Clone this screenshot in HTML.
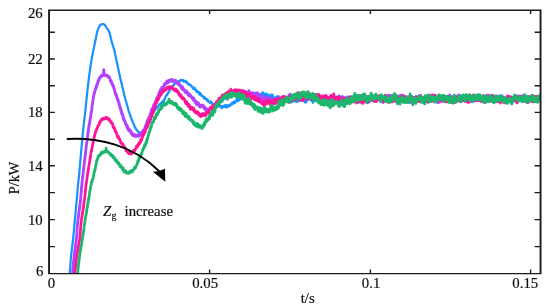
<!DOCTYPE html>
<html><head><meta charset="utf-8"><title>P/kW vs t/s</title>
<style>html,body{margin:0;padding:0;background:#fff}svg{display:block}</style></head>
<body>
<svg width="550" height="308" viewBox="0 0 550 308">
<rect width="550" height="308" fill="#fff"/>
<clipPath id="c"><rect x="49" y="10" width="492" height="263.8"/></clipPath>
<g clip-path="url(#c)" fill="none" stroke-linejoin="round" stroke-linecap="round">
<polyline stroke="#1892ff" stroke-width="2.2" points="69.6,274.5 69.6,274.1 69.7,273.8 69.7,273.6 69.7,273.3 69.7,272.8 69.8,272.4 69.8,272.1 69.8,271.7 69.8,271.2 69.9,271.0 69.9,270.7 69.9,270.4 69.9,270.1 70.0,269.6 70.0,269.3 70.0,268.9 70.1,268.6 70.1,268.3 70.1,267.8 70.1,267.6 70.2,267.2 70.2,266.7 70.2,266.5 70.2,266.2 70.3,265.9 70.3,265.4 70.3,265.2 70.4,264.8 70.4,264.3 70.4,264.0 70.4,263.8 70.5,263.3 70.5,262.9 70.5,262.7 70.6,262.2 70.6,261.9 70.6,261.6 70.6,261.3 70.7,260.9 70.7,260.6 70.7,260.2 70.8,260.0 70.8,259.6 70.8,259.2 70.9,258.7 70.9,258.5 70.9,258.1 70.9,257.7 71.0,257.4 71.0,257.2 71.0,256.8 71.1,256.3 71.1,255.9 71.1,255.7 71.2,255.4 71.2,255.1 71.2,254.6 71.3,254.4 71.3,253.9 71.3,253.5 71.4,253.2 71.4,253.0 71.5,252.6 71.5,252.0 71.5,251.8 71.6,251.5 71.6,251.0 71.7,250.6 71.7,250.3 71.7,250.2 71.8,249.7 71.8,249.3 71.9,249.1 71.9,248.7 72.0,248.4 72.0,248.0 72.0,247.6 72.1,247.3 72.1,246.9 72.2,246.5 72.2,246.4 72.3,246.1 72.3,245.6 72.3,245.3 72.4,245.0 72.4,244.5 72.5,244.2 72.5,243.8 72.6,243.3 72.6,242.9 72.7,242.7 72.7,242.4 72.7,241.9 72.8,241.8 72.8,241.4 72.9,241.0 72.9,240.7 72.9,240.3 73.0,240.0 73.0,239.5 73.1,239.3 73.1,239.0 73.1,238.7 73.2,238.2 73.2,238.0 73.2,237.7 73.3,237.2 73.3,236.9 73.3,236.7 73.4,236.2 73.4,236.1 73.4,235.7 73.5,235.2 73.5,234.9 73.5,234.3 73.6,234.1 73.6,233.8 73.6,233.3 73.7,233.1 73.7,232.7 73.7,232.5 73.8,232.1 73.8,231.9 73.8,231.4 73.9,231.0 73.9,230.8 73.9,230.2 74.0,229.9 74.0,229.7 74.0,229.4 74.1,228.8 74.1,228.6 74.1,228.1 74.1,227.9 74.2,227.5 74.2,226.9 74.2,226.6 74.3,226.3 74.3,226.1 74.3,225.8 74.4,225.4 74.4,225.1 74.4,224.6 74.5,224.3 74.5,223.9 74.5,223.7 74.6,223.3 74.6,222.9 74.6,222.5 74.7,222.3 74.7,221.8 74.7,221.4 74.8,221.2 74.8,220.9 74.8,220.6 74.9,220.1 74.9,219.9 74.9,219.5 74.9,219.0 75.0,218.8 75.0,218.5 75.0,218.1 75.1,217.6 75.1,217.4 75.1,217.0 75.2,216.8 75.2,216.3 75.2,215.9 75.3,215.7 75.3,215.4 75.3,214.9 75.4,214.5 75.4,214.3 75.4,213.9 75.5,213.6 75.5,213.1 75.5,212.8 75.6,212.5 75.6,212.1 75.6,211.9 75.7,211.5 75.7,211.0 75.7,210.7 75.8,210.5 75.8,210.1 75.8,209.6 75.9,209.4 75.9,208.9 75.9,208.7 76.0,208.3 76.0,207.8 76.0,207.6 76.1,207.4 76.1,207.0 76.1,206.6 76.2,206.3 76.2,205.9 76.2,205.6 76.3,205.2 76.3,204.7 76.3,204.4 76.3,204.1 76.4,203.6 76.4,203.3 76.4,203.0 76.5,202.7 76.5,202.4 76.5,202.2 76.6,201.8 76.6,201.5 76.6,201.0 76.7,200.7 76.7,200.4 76.7,199.8 76.8,199.5 76.8,199.2 76.8,198.8 76.9,198.4 76.9,198.1 76.9,197.7 76.9,197.5 77.0,197.0 77.0,196.7 77.0,196.4 77.1,196.1 77.1,195.7 77.1,195.4 77.1,195.1 77.2,194.6 77.2,194.4 77.2,194.1 77.3,193.6 77.3,193.1 77.3,193.0 77.3,192.5 77.4,192.2 77.4,191.9 77.4,191.7 77.5,191.2 77.5,190.9 77.5,190.5 77.5,190.2 77.6,189.7 77.6,189.5 77.6,189.2 77.7,188.8 77.7,188.4 77.7,188.0 77.7,187.9 77.8,187.5 77.8,187.1 77.8,186.7 77.9,186.4 77.9,185.9 77.9,185.7 78.0,185.3 78.0,185.0 78.0,184.7 78.1,184.3 78.1,184.1 78.1,183.6 78.2,183.1 78.2,182.7 78.3,182.5 78.3,182.1 78.3,181.9 78.4,181.3 78.4,181.0 78.5,180.9 78.5,180.4 78.5,180.2 78.6,179.8 78.6,179.3 78.7,179.0 78.7,178.7 78.7,178.5 78.8,178.0 78.8,177.7 78.9,177.3 78.9,176.9 78.9,176.7 79.0,176.1 79.0,175.8 79.0,175.6 79.1,175.2 79.1,174.8 79.1,174.4 79.2,174.0 79.2,173.8 79.2,173.6 79.3,173.1 79.3,172.8 79.3,172.5 79.4,172.2 79.4,171.9 79.4,171.5 79.5,171.1 79.5,170.7 79.5,170.4 79.5,170.0 79.6,169.7 79.6,169.2 79.6,168.9 79.7,168.6 79.7,168.1 79.7,167.8 79.8,167.4 79.8,167.1 79.8,166.9 79.8,166.5 79.9,166.1 79.9,165.9 79.9,165.6 80.0,165.2 80.0,164.9 80.0,164.4 80.0,164.0 80.1,163.7 80.1,163.3 80.1,163.0 80.2,162.6 80.2,162.2 80.2,162.0 80.3,161.6 80.3,161.3 80.3,160.8 80.3,160.7 80.4,160.2 80.4,159.9 80.4,159.7 80.5,159.1 80.5,158.8 80.5,158.6 80.6,158.3 80.6,157.8 80.6,157.3 80.7,157.1 80.7,156.7 80.7,156.3 80.8,156.2 80.8,155.7 80.8,155.3 80.9,154.9 80.9,154.6 80.9,154.4 80.9,153.9 81.0,153.6 81.0,153.3 81.0,152.9 81.1,152.6 81.1,152.2 81.1,151.7 81.2,151.4 81.2,151.1 81.2,150.7 81.3,150.4 81.3,150.0 81.3,149.8 81.4,149.5 81.4,148.9 81.4,148.8 81.4,148.4 81.5,148.0 81.5,147.7 81.5,147.3 81.6,147.0 81.6,146.6 81.6,146.3 81.7,146.0 81.7,145.5 81.7,145.2 81.8,144.8 81.8,144.6 81.8,144.3 81.9,143.8 81.9,143.5 81.9,143.1 82.0,142.7 82.0,142.5 82.0,142.1 82.1,141.9 82.1,141.5 82.1,141.1 82.1,140.9 82.2,140.3 82.2,140.0 82.2,139.8 82.3,139.3 82.3,139.0 82.3,138.7 82.4,138.2 82.4,137.8 82.4,137.6 82.5,137.0 82.5,136.9 82.5,136.4 82.6,136.0 82.6,135.7 82.6,135.5 82.7,135.3 82.7,134.9 82.7,134.5 82.8,134.1 82.8,133.7 82.8,133.5 82.9,133.0 82.9,132.8 82.9,132.3 83.0,132.1 83.0,131.6 83.1,131.3 83.1,130.9 83.1,130.7 83.2,130.4 83.2,130.0 83.2,129.5 83.3,129.3 83.3,128.9 83.3,128.5 83.4,128.1 83.4,127.8 83.4,127.5 83.5,127.0 83.5,126.8 83.6,126.5 83.6,126.1 83.6,125.7 83.7,125.3 83.7,124.9 83.7,124.5 83.8,124.2 83.8,123.9 83.8,123.6 83.9,123.3 83.9,122.9 84.0,122.5 84.0,122.2 84.0,121.9 84.1,121.5 84.1,121.1 84.2,120.9 84.2,120.5 84.3,120.3 84.3,120.0 84.3,119.6 84.4,119.3 84.4,118.8 84.5,118.5 84.5,117.9 84.5,117.5 84.6,117.3 84.6,117.0 84.7,116.5 84.7,116.2 84.8,115.9 84.8,115.6 84.8,115.4 84.9,114.9 84.9,114.7 85.0,114.4 85.0,114.1 85.0,113.7 85.1,113.3 85.1,112.9 85.2,112.4 85.2,112.1 85.2,111.6 85.3,111.3 85.3,111.1 85.3,110.8 85.4,110.5 85.4,110.1 85.5,109.8 85.5,109.5 85.5,109.1 85.6,108.7 85.6,108.3 85.6,108.0 85.7,107.5 85.7,107.4 85.8,106.8 85.8,106.7 85.8,106.2 85.9,105.8 85.9,105.5 85.9,105.2 86.0,104.8 86.0,104.4 86.0,104.3 86.1,103.9 86.1,103.3 86.1,103.1 86.2,102.7 86.2,102.5 86.3,102.1 86.3,101.7 86.3,101.4 86.4,101.0 86.4,100.6 86.4,100.4 86.5,99.9 86.5,99.7 86.5,99.3 86.6,98.8 86.6,98.6 86.6,98.2 86.7,97.9 86.7,97.5 86.7,97.2 86.8,96.7 86.8,96.5 86.9,96.3 86.9,95.7 86.9,95.3 87.0,95.0 87.0,94.7 87.0,94.3 87.1,94.0 87.1,93.7 87.1,93.4 87.2,92.8 87.2,92.6 87.3,92.4 87.3,91.9 87.3,91.8 87.4,91.3 87.4,90.9 87.4,90.6 87.5,90.1 87.5,89.7 87.5,89.6 87.6,89.3 87.6,88.9 87.7,88.4 87.7,88.0 87.7,87.8 87.8,87.5 87.8,87.1 87.9,86.8 87.9,86.5 87.9,86.2 88.0,85.6 88.0,85.3 88.1,85.2 88.1,84.7 88.1,84.2 88.2,84.1 88.2,83.7 88.3,83.2 88.3,82.9 88.4,82.6 88.4,82.2 88.4,81.8 88.5,81.5 88.5,81.2 88.6,81.0 88.6,80.7 88.7,80.1 88.7,79.7 88.7,79.5 88.8,79.1 88.8,78.8 88.9,78.3 88.9,77.9 89.0,77.5 89.0,77.4 89.0,76.8 89.1,76.7 89.1,76.3 89.2,76.0 89.2,75.7 89.3,75.2 89.3,74.9 89.4,74.7 89.4,74.2 89.5,73.9 89.5,73.5 89.5,73.3 89.6,72.9 89.6,72.3 89.7,72.0 89.7,71.8 89.8,71.4 89.8,71.0 89.9,70.6 89.9,70.3 90.0,69.9 90.0,69.8 90.1,69.3 90.1,69.1 90.2,68.8 90.2,68.5 90.3,68.0 90.3,67.7 90.4,67.4 90.4,66.8 90.5,66.8 90.5,66.1 90.6,65.9 90.6,65.6 90.7,65.3 90.7,64.9 90.8,64.6 90.8,64.3 90.9,63.9 90.9,63.6 91.0,63.3 91.0,62.7 91.1,62.5 91.2,62.0 91.2,61.7 91.3,61.3 91.3,61.2 91.4,60.8 91.4,60.5 91.5,60.3 91.6,59.9 91.6,59.6 91.7,59.1 91.7,58.8 91.8,58.4 91.8,57.8 91.9,57.6 92.0,57.1 92.0,56.9 92.1,56.5 92.2,56.4 92.2,55.9 92.3,55.5 92.4,55.3 92.4,54.9 92.5,54.4 92.6,54.1 92.7,53.8 92.7,53.4 92.8,53.1 92.9,52.8 92.9,52.4 93.0,52.1 93.1,51.7 93.1,51.4 93.2,51.1 93.3,50.7 93.4,50.5 93.4,50.1 93.5,49.5 93.6,49.2 93.6,48.9 93.7,48.7 93.8,48.4 93.8,48.1 93.9,47.8 94.0,47.4 94.1,47.0 94.1,46.6 94.2,46.4 94.3,45.9 94.3,45.5 94.4,45.2 94.5,44.8 94.6,44.8 94.6,44.4 94.7,43.9 94.8,43.8 94.8,43.4 94.9,43.0 95.0,42.8 95.1,42.4 95.1,41.9 95.2,41.5 95.3,41.1 95.3,40.7 95.4,40.4 95.5,40.0 95.5,39.6 95.6,39.5 95.7,39.3 95.7,38.9 95.8,38.7 95.9,38.4 95.9,37.9 96.0,37.5 96.1,37.1 96.1,36.7 96.2,36.3 96.3,35.9 96.3,35.6 96.4,35.3 96.5,34.9 96.6,34.7 96.6,34.2 96.7,33.7 96.8,33.5 96.9,33.2 97.0,32.9 97.0,32.5 97.1,32.2 97.2,31.7 97.3,31.5 97.4,31.0 97.5,30.9 97.6,30.7 97.7,30.3 97.8,30.0 97.9,29.4 98.0,29.4 98.1,28.9 98.2,28.5 98.4,28.2 98.5,27.9 98.7,27.7 98.8,27.4 99.0,27.1 99.2,26.7 99.3,26.3 99.5,25.8 99.7,25.7 100.0,25.2 100.2,25.3 100.5,24.9 100.8,24.7 101.1,24.7 101.4,24.5 101.7,24.3 102.0,24.0 102.4,24.1 102.7,24.1 103.1,24.1 103.4,24.1 103.8,24.2 104.1,24.6 104.4,24.5 104.7,24.7 104.9,24.9 105.1,25.3 105.3,25.5 105.5,25.9 105.7,25.9 105.9,26.3 106.1,26.8 106.3,27.2 106.5,27.6 106.6,27.7 106.8,28.1 107.0,28.4 107.2,28.7 107.4,28.9 107.6,29.3 107.8,29.3 107.9,29.5 108.1,29.9 108.3,30.1 108.5,30.6 108.7,31.0 108.9,31.1 109.0,31.5 109.2,31.9 109.3,32.2 109.4,32.3 109.5,32.9 109.6,33.3 109.7,33.4 109.8,33.8 109.9,34.2 110.0,34.6 110.1,34.7 110.2,35.4 110.2,35.7 110.3,36.3 110.4,36.5 110.5,36.6 110.6,36.8 110.7,37.2 110.7,37.7 110.8,37.8 110.9,38.3 111.0,38.7 111.0,39.1 111.1,39.2 111.2,39.8 111.3,40.0 111.3,40.3 111.4,40.8 111.5,40.8 111.6,41.4 111.7,41.5 111.8,42.2 111.9,42.3 112.0,42.7 112.1,42.9 112.2,43.3 112.3,43.8 112.4,43.8 112.5,44.4 112.6,44.5 112.7,44.9 112.8,45.5 112.9,45.4 113.0,46.0 113.1,46.1 113.2,46.7 113.3,47.1 113.4,47.2 113.5,47.8 113.7,47.9 113.8,48.4 113.9,48.6 114.0,49.2 114.1,49.3 114.1,49.6 114.2,49.8 114.3,50.6 114.4,50.5 114.5,51.0 114.6,51.5 114.7,51.7 114.7,52.1 114.8,52.4 114.9,53.0 115.0,53.0 115.0,53.3 115.1,53.7 115.2,54.2 115.2,54.5 115.3,55.0 115.4,55.4 115.4,55.5 115.5,56.0 115.6,56.2 115.6,56.5 115.7,56.7 115.8,57.4 115.9,57.5 115.9,58.0 116.0,58.2 116.1,58.8 116.1,58.8 116.2,59.2 116.3,59.7 116.4,59.8 116.4,60.4 116.5,60.7 116.6,60.9 116.6,61.6 116.7,61.6 116.8,62.0 116.9,62.4 116.9,62.8 117.0,62.9 117.1,63.2 117.2,63.8 117.2,64.2 117.3,64.4 117.4,64.9 117.5,65.4 117.5,65.7 117.6,65.9 117.7,66.4 117.8,66.7 117.8,67.0 117.9,67.0 118.0,67.5 118.1,67.8 118.1,68.2 118.2,68.4 118.3,68.8 118.4,69.2 118.4,69.4 118.5,69.8 118.6,70.1 118.6,70.5 118.7,70.9 118.8,71.1 118.9,71.7 118.9,71.9 119.0,72.2 119.1,72.3 119.1,73.0 119.2,73.2 119.3,73.5 119.4,74.2 119.4,74.6 119.5,74.5 119.6,75.1 119.7,75.1 119.7,75.7 119.8,76.0 119.9,76.4 120.0,76.9 120.0,77.1 120.1,77.3 120.2,78.0 120.3,78.0 120.3,78.5 120.4,78.8 120.5,79.3 120.6,79.3 120.7,79.8 120.7,80.2 120.8,80.5 120.9,81.0 121.0,81.0 121.1,81.3 121.2,81.9 121.2,82.1 121.3,82.7 121.4,83.0 121.5,83.4 121.6,83.6 121.7,83.9 121.8,84.1 121.8,84.3 121.9,84.5 122.0,85.2 122.1,85.4 122.2,85.7 122.3,86.3 122.4,86.6 122.4,87.1 122.5,87.2 122.6,87.5 122.7,88.1 122.8,88.4 122.9,88.5 122.9,89.1 123.0,89.6 123.1,89.9 123.2,90.2 123.2,90.2 123.3,90.9 123.4,90.9 123.5,91.3 123.5,91.5 123.6,92.1 123.7,92.6 123.8,92.9 123.9,92.9 123.9,93.7 124.0,93.6 124.1,94.2 124.2,94.7 124.3,95.0 124.3,95.2 124.4,95.6 124.5,95.7 124.6,96.1 124.7,96.6 124.8,96.9 124.9,97.2 124.9,97.5 125.0,97.7 125.1,98.4 125.2,98.4 125.3,98.7 125.4,99.3 125.5,99.4 125.6,100.2 125.7,100.3 125.8,100.4 125.9,100.7 126.0,101.3 126.1,101.3 126.2,101.6 126.3,102.1 126.3,102.5 126.4,103.0 126.5,103.0 126.6,103.8 126.7,103.9 126.8,104.5 126.9,104.4 127.0,104.6 127.1,105.0 127.2,105.3 127.3,105.8 127.4,106.3 127.5,106.7 127.6,106.6 127.7,107.1 127.8,107.5 127.8,107.8 127.9,108.2 128.0,108.3 128.1,108.6 128.2,108.9 128.3,109.5 128.4,110.2 128.5,110.1 128.6,110.9 128.7,110.9 128.8,111.5 129.0,111.9 129.1,112.1 129.2,112.5 129.3,112.9 129.4,113.3 129.5,113.5 129.6,113.6 129.7,113.7 129.8,114.0 130.0,114.6 130.1,114.7 130.2,115.1 130.3,115.8 130.4,116.1 130.6,116.3 130.7,116.8 130.8,116.9 130.9,117.0 131.0,117.4 131.2,117.8 131.3,118.1 131.4,118.6 131.5,119.3 131.7,119.3 131.8,119.9 131.9,119.6 132.0,120.4 132.1,120.8 132.3,120.9 132.4,120.9 132.5,121.7 132.7,121.8 132.8,122.4 132.9,122.5 133.1,122.8 133.2,123.5 133.3,123.2 133.5,123.5 133.6,124.2 133.8,124.5 133.9,124.4 134.0,124.8 134.2,125.4 134.3,125.8 134.5,126.2 134.6,126.4 134.8,127.1 134.9,126.9 135.1,127.6 135.2,127.5 135.4,127.9 135.6,128.1 135.7,128.7 135.9,128.8 136.1,129.0 136.3,129.4 136.5,129.7 136.7,130.1 136.9,130.2 137.1,130.6 137.4,130.9 137.6,130.9 137.8,131.0 138.1,131.6 138.3,131.6 138.6,132.3 138.9,131.9 139.2,132.3 139.5,132.7 139.9,132.5 140.2,132.8 140.6,132.8 140.9,132.8 141.2,132.7 141.5,133.1 141.8,132.4 142.1,132.0 142.4,132.3 142.7,131.4 142.9,131.7 143.2,131.4 143.4,131.3 143.7,131.1 143.9,130.3 144.1,129.9 144.4,129.9 144.6,129.7 144.8,129.4 145.0,129.7 145.2,128.9 145.4,128.9 145.5,128.5 145.7,127.8 145.9,128.1 146.0,127.5 146.2,127.3 146.3,126.7 146.5,126.6 146.7,126.3 146.8,126.1 147.0,125.2 147.1,125.3 147.3,125.0 147.4,125.1 147.5,124.4 147.7,124.1 147.8,123.6 148.0,123.2 148.1,123.3 148.2,122.6 148.4,122.9 148.5,122.3 148.6,122.3 148.8,121.7 148.9,121.7 149.1,121.4 149.2,120.6 149.3,120.1 149.5,120.2 149.6,119.3 149.8,119.4 149.9,118.5 150.1,118.4 150.2,118.0 150.4,117.6 150.5,117.3 150.7,117.7 150.8,117.1 151.0,116.6 151.1,116.3 151.3,116.2 151.5,115.7 151.6,114.9 151.8,114.7 151.9,115.0 152.1,114.4 152.3,114.2 152.4,113.6 152.6,113.2 152.8,113.0 152.9,112.7 153.1,112.6 153.3,112.3 153.5,112.4 153.7,111.9 153.9,111.7 154.0,111.8 154.2,110.6 154.4,110.7 154.6,110.5 154.9,109.8 155.1,110.1 155.3,109.2 155.5,109.6 155.7,108.8 155.9,108.7 156.2,108.4 156.4,108.3 156.6,108.0 156.8,107.1 157.1,107.6 157.3,107.1 157.5,107.4 157.7,106.5 158.0,106.4 158.2,106.5 158.5,105.8 158.7,105.3 159.0,105.0 159.2,105.2 159.5,104.1 159.8,104.8 160.0,104.1 160.3,104.3 160.6,103.7 160.8,103.9 161.1,102.9 161.4,103.0 161.6,103.1 161.9,103.1 162.1,102.2 162.4,101.4 162.6,101.9 162.8,101.6 163.1,100.9 163.3,100.8 163.5,100.8 163.7,100.0 163.8,100.4 164.0,100.1 164.2,99.7 164.4,99.7 164.5,99.0 164.7,98.7 164.9,98.9 165.0,98.6 165.2,98.1 165.4,97.1 165.5,96.6 165.7,96.8 165.9,96.0 166.0,95.9 166.2,95.7 166.4,95.2 166.6,95.6 166.8,94.7 167.0,94.7 167.2,94.9 167.4,94.3 167.6,93.7 167.8,93.8 168.0,92.9 168.2,92.5 168.4,92.1 168.5,92.4 168.7,92.1 168.9,91.8 169.1,91.5 169.3,91.1 169.5,91.2 169.6,90.4 169.8,89.8 170.0,89.7 170.2,89.6 170.4,89.5 170.5,88.9 170.7,88.6 170.9,88.2 171.1,88.6 171.3,88.5 171.5,87.7 171.7,88.0 171.9,87.0 172.1,87.7 172.3,86.7 172.5,86.7 172.7,86.3 173.0,85.3 173.2,85.6 173.4,84.7 173.7,85.0 173.9,84.8 174.1,85.0 174.4,83.6 174.7,83.1 174.9,83.5 175.2,83.0 175.4,83.2 175.7,82.8 176.0,83.2 176.3,82.3 176.6,82.5 176.9,82.6 177.2,82.6 177.5,81.7 177.8,81.9 178.1,82.3 178.4,81.2 178.8,82.0 179.1,81.9 179.4,82.0 179.7,81.0 180.1,80.6 180.4,80.3 180.8,80.0 181.1,79.7 181.5,80.6 181.8,80.5 182.2,80.6 182.5,80.8 182.8,80.3 183.2,80.0 183.5,81.2 183.9,81.6 184.2,80.9 184.5,81.6 184.8,81.3 185.2,81.7 185.5,80.8 185.8,82.2 186.1,82.3 186.4,81.5 186.7,82.5 187.0,82.3 187.3,82.4 187.5,83.6 187.8,83.7 188.1,83.7 188.4,84.1 188.7,84.7 188.9,84.1 189.2,84.5 189.5,84.3 189.8,84.8 190.0,84.5 190.3,84.9 190.6,85.5 190.8,85.1 191.1,85.9 191.4,86.4 191.6,86.4 191.9,86.5 192.2,86.7 192.4,86.6 192.7,88.1 192.9,88.6 193.2,87.6 193.5,88.5 193.7,88.5 194.0,88.9 194.2,88.7 194.5,88.0 194.8,88.1 195.0,88.9 195.3,89.1 195.5,90.3 195.8,89.8 196.0,91.0 196.3,91.3 196.6,90.3 196.8,92.0 197.1,92.2 197.3,91.1 197.6,92.2 197.9,91.5 198.1,92.3 198.4,91.7 198.6,92.8 198.9,92.3 199.2,92.7 199.4,94.6 199.7,94.4 200.0,94.2 200.2,94.4 200.5,93.4 200.8,93.6 201.0,94.4 201.3,95.6 201.6,95.9 201.9,96.0 202.1,95.5 202.4,95.8 202.7,96.4 202.9,96.5 203.2,96.2 203.5,97.0 203.8,98.1 204.0,98.5 204.3,97.1 204.6,97.4 204.8,97.3 205.1,98.1 205.4,98.9 205.7,98.3 205.9,98.3 206.2,99.6 206.5,98.7 206.7,99.6 207.0,100.5 207.2,100.7 207.5,99.5 207.8,100.2 208.0,100.8 208.3,101.9 208.6,102.0 208.8,101.9 209.1,101.7 209.4,101.7 209.6,102.4 209.9,102.8 210.2,101.8 210.5,101.6 210.8,101.4 211.1,102.0 211.4,102.4 211.7,103.4 212.0,104.4 212.3,103.8 212.6,103.5 212.9,103.8 213.2,105.8 213.5,105.5 213.8,105.1 214.1,106.2 214.5,106.0 214.8,104.8 215.1,104.2 215.4,104.4 215.7,104.6 216.1,105.9 216.4,105.9 216.7,106.7 217.1,105.1 217.4,105.7 217.7,106.6 218.1,106.4 218.4,105.8 218.8,105.7 219.1,106.6 219.5,105.9 219.8,105.3 220.2,106.0 220.5,105.8 220.9,106.8 221.2,106.9 221.5,107.4 221.9,108.1 222.2,107.0 222.6,106.0 223.0,106.9 223.3,106.6 223.7,107.0 224.0,107.1 224.4,105.4 224.7,107.2 225.1,105.7 225.4,106.7 225.8,105.2 226.1,107.1 226.5,105.9 226.8,105.5 227.2,107.4 227.5,105.4 227.9,106.2 228.2,106.3 228.5,105.5 228.8,105.4 229.2,106.3 229.5,104.8 229.8,105.7 230.1,104.9 230.4,105.7 230.7,104.3 231.0,104.0 231.3,104.0 231.6,103.1 231.9,104.2 232.2,102.8 232.5,104.3 232.8,103.8 233.1,102.1 233.4,102.9 233.7,101.6 234.0,101.9 234.2,102.3 234.5,103.3 234.8,102.9 235.1,102.4 235.4,101.1 235.7,101.1 236.0,101.8 236.2,100.8 236.5,99.9 236.8,98.9 237.1,98.9 237.4,101.2 237.7,99.9 238.0,101.1 238.3,99.2 238.5,100.0 238.8,98.9 239.1,100.4 239.4,98.3 239.8,98.8 240.1,99.7 240.4,98.8 240.7,98.2 241.0,97.5 241.3,97.8 241.6,96.1 242.0,96.4 242.3,96.6 242.6,95.7 242.9,95.8 243.3,95.9 243.6,96.8 243.9,97.0 244.3,94.7 244.6,96.2 244.9,97.0 245.3,97.1 245.6,95.3 245.9,94.8 246.3,95.3 246.6,95.2 246.9,94.6 247.3,94.4 247.6,95.8 247.9,94.7 248.3,94.9 248.6,95.3 249.0,95.4 249.3,94.2 249.7,94.7 250.0,95.7 250.4,95.5 250.7,95.4 251.1,96.0 251.4,96.0 251.8,94.9 252.1,95.3 252.5,94.2 252.8,95.2 253.2,96.8 253.5,96.0 253.9,96.0 254.2,96.0 254.6,94.7 254.9,92.9 255.3,93.6 255.6,93.2 256.0,96.1 256.3,96.0 256.7,95.2 257.0,94.1 257.4,94.3 257.7,94.9 258.1,95.6 258.4,94.2 258.8,94.9 259.1,94.3 259.5,94.2 259.8,94.5 260.2,94.6 260.5,96.8 260.9,94.3 261.2,93.6 261.6,95.5 261.9,95.7 262.3,94.7 262.6,92.4 263.0,92.5 263.3,93.1 263.7,93.6 264.0,95.5 264.4,94.3 264.7,96.4 265.1,94.7 265.4,93.6 265.8,93.3 266.1,95.1 266.5,96.1 266.8,95.6 267.2,94.3 267.5,96.1 267.9,94.9 268.2,95.2 268.5,96.8 268.9,96.6 269.2,95.2 269.6,97.4 269.9,96.0 270.3,97.8 270.6,97.0 271.0,96.7 271.3,95.1 271.6,94.4 272.0,97.6 272.3,94.7 272.7,95.2 273.0,97.1 273.3,99.0 273.7,97.5 274.0,99.0 274.4,97.9 274.7,98.3 275.1,98.3 275.4,98.8 275.7,98.9 276.1,96.7 276.4,98.2 276.8,97.6 277.1,99.3 277.5,98.0 277.8,97.3 278.1,96.0 278.5,98.6 278.8,96.3 279.2,98.9 279.5,97.7 279.9,99.3 280.2,100.4 280.6,98.1 280.9,98.8 281.2,98.7 281.6,97.2 281.9,99.2 282.3,99.2 282.6,99.8 283.0,98.1 283.3,97.9 283.7,99.0 284.0,97.7 284.3,97.9 284.7,96.6 285.0,98.3 285.4,98.4 285.7,98.5 286.1,98.9 286.4,97.7 286.8,99.3 287.1,100.2 287.5,99.1 287.8,100.4 288.2,101.6 288.5,100.8 288.9,102.0 289.2,101.0 289.6,99.7 289.9,97.5 290.3,99.6 290.6,98.5 291.0,102.7 291.3,99.3 291.7,99.6 292.0,99.1 292.4,101.4 292.7,101.5 293.1,100.7 293.4,101.1 293.8,98.6 294.1,101.1 294.5,97.8 294.8,98.5 295.2,100.7 295.5,100.3 295.9,101.6 296.2,101.6 296.6,99.1 296.9,99.8 297.3,102.0 297.6,100.6 297.9,100.7 298.3,97.5 298.6,100.8 299.0,98.8 299.3,97.1 299.7,98.9 300.0,100.2 300.4,98.7 300.7,100.7 301.1,100.6 301.4,98.9 301.8,100.9 302.1,100.0 302.5,97.8 302.8,97.1 303.2,97.2 303.5,99.7 303.9,101.2 304.2,98.9 304.6,99.2 304.9,102.5 305.3,101.9 305.6,99.8 306.0,102.3 306.3,100.2 306.7,99.1 307.0,99.3 307.4,98.8 307.7,100.5 308.1,99.0 308.4,99.6 308.8,99.6 309.1,98.8 309.5,98.5 309.8,98.2 310.2,97.8 310.5,97.3 310.9,100.1 311.2,97.4 311.6,100.7 311.9,101.0 312.3,101.5 312.6,101.1 313.0,102.8 313.3,100.5 313.7,100.5 314.0,99.4 314.4,97.8 314.7,99.4 315.1,99.3 315.4,98.8 315.8,96.6 316.1,97.2 316.5,97.7 316.8,98.4 317.2,97.6 317.5,98.1 317.9,97.6 318.2,96.7 318.6,99.9 318.9,98.7 319.3,100.2 319.6,98.5 320.0,98.6 320.3,97.7 320.7,99.8 321.0,98.4 321.4,100.2 321.7,98.7 322.1,100.0 322.4,99.9 322.8,99.1 323.1,98.2 323.5,99.3 323.8,100.2 324.2,99.8 324.5,98.2 324.9,97.9 325.2,98.4 325.6,99.8 325.9,98.1 326.3,99.9 326.6,101.2 327.0,102.0 327.3,100.7 327.7,102.5 328.0,101.1 328.4,100.9 328.7,97.4 329.1,99.3 329.4,97.6 329.8,100.9 330.1,99.8 330.5,102.1 330.8,98.4 331.2,97.9 331.5,99.1 331.9,97.7 332.2,99.2 332.6,98.3 332.9,96.4 333.3,97.6 333.6,97.4 334.0,97.7 334.3,101.4 334.7,99.5 335.0,100.3 335.4,98.5 335.7,97.4 336.1,98.1 336.4,99.7 336.8,98.3 337.1,96.5 337.5,99.0 337.8,98.8 338.2,99.7 338.5,96.8 338.9,100.9 339.2,99.0 339.6,98.6 339.9,98.3 340.3,101.0 340.6,98.3 341.0,98.0 341.3,100.4 341.7,98.1 342.0,96.1 342.4,96.7 342.7,99.9 343.1,98.1 343.4,97.7 343.8,97.2 344.1,99.9 344.5,97.4 344.8,99.8 345.2,99.8 345.5,100.3 345.9,100.6 346.2,98.5 346.6,101.0 346.9,99.6 347.3,98.0 347.6,98.3 348.0,99.4 348.3,99.1 348.7,101.5 349.0,99.8 349.4,99.8 349.7,97.2 350.1,97.4 350.4,98.6 350.8,99.3 351.1,101.4 351.5,97.0 351.8,99.7 352.2,98.9 352.5,97.2 352.9,100.4 353.2,98.1 353.6,100.3 353.9,97.9 354.3,99.5 354.6,100.7 355.0,101.3 355.3,99.1 355.7,98.5 356.0,100.7 356.4,100.6 356.7,97.6 357.1,100.0 357.4,101.5 357.8,98.7 358.1,101.0 358.5,102.9 358.8,100.6 359.2,102.0 359.5,101.7 359.9,97.0 360.2,98.1 360.6,98.2 360.9,101.6 361.3,100.4 361.6,98.3 362.0,99.6 362.3,99.2 362.7,102.6 363.0,101.6 363.4,101.1 363.7,97.2 364.1,98.2 364.4,98.2 364.8,97.5 365.1,99.9 365.5,97.8 365.8,99.1 366.2,98.1 366.5,97.2 366.9,96.1 367.2,100.1 367.6,98.7 367.9,97.2 368.3,99.3 368.6,97.6 369.0,99.2 369.3,101.8 369.7,99.0 370.0,98.7 370.4,98.3 370.7,99.5 371.1,99.1 371.4,98.6 371.8,100.7 372.1,98.8 372.5,100.3 372.8,98.1 373.2,97.9 373.5,97.4 373.9,97.1 374.2,99.8 374.6,98.3 374.9,96.5 375.3,97.5 375.6,97.6 376.0,97.9 376.3,95.7 376.7,98.1 377.0,99.9 377.4,98.6 377.7,98.7 378.1,100.3 378.4,97.1 378.8,96.8 379.1,99.1 379.5,99.4 379.8,96.7 380.2,97.3 380.5,101.8 380.9,101.4 381.2,98.9 381.6,96.9 381.9,98.2 382.3,95.8 382.6,99.4 383.0,99.5 383.3,98.8 383.7,100.0 384.0,96.8 384.4,95.9 384.7,98.3 385.1,97.1 385.4,99.9 385.8,97.6 386.1,99.2 386.5,100.1 386.8,100.8 387.2,96.3 387.5,98.0 387.9,100.7 388.2,97.0 388.6,99.3 388.9,100.8 389.3,99.5 389.6,101.2 390.0,99.1 390.3,98.5 390.7,97.1 391.0,99.2 391.4,101.2 391.7,100.5 392.1,95.7 392.4,95.4 392.8,95.6 393.1,99.5 393.5,97.4 393.8,97.2 394.2,100.0 394.5,98.8 394.9,99.7 395.2,101.4 395.6,101.4 395.9,97.2 396.3,96.5 396.6,96.2 397.0,99.8 397.3,98.1 397.7,99.5 398.0,96.7 398.4,100.1 398.7,97.6 399.1,99.3 399.4,97.7 399.8,99.4 400.1,100.8 400.5,98.2 400.8,101.7 401.2,101.0 401.5,100.2 401.9,100.5 402.2,98.4 402.6,97.7 402.9,98.9 403.3,97.5 403.6,97.9 404.0,99.4 404.3,96.4 404.7,96.5 405.0,100.5 405.4,101.7 405.7,99.4 406.1,98.4 406.4,101.4 406.8,97.5 407.1,98.3 407.5,99.8 407.8,98.8 408.2,98.5 408.5,98.1 408.9,100.1 409.2,99.1 409.6,102.4 409.9,102.2 410.3,103.1 410.6,102.5 411.0,101.7 411.3,98.3 411.7,99.3 412.0,96.1 412.4,100.3 412.7,99.9 413.1,99.0 413.4,100.6 413.8,101.2 414.1,99.2 414.5,101.1 414.8,98.2 415.2,97.0 415.5,99.5 415.9,96.1 416.2,96.7 416.6,97.0 416.9,99.0 417.3,98.1 417.6,97.2 418.0,98.6 418.3,96.2 418.7,95.7 419.0,96.7 419.4,98.5 419.7,97.5 420.1,100.6 420.4,98.5 420.8,98.6 421.1,99.4 421.5,98.7 421.8,97.4 422.2,97.9 422.5,99.3 422.9,98.3 423.2,98.0 423.6,98.6 423.9,100.3 424.3,100.2 424.6,97.0 425.0,96.2 425.3,95.8 425.7,96.2 426.0,98.4 426.4,98.1 426.7,100.0 427.1,98.6 427.4,101.3 427.8,101.1 428.1,102.6 428.5,101.9 428.8,98.5 429.2,100.4 429.5,99.5 429.9,97.9 430.2,100.2 430.6,101.9 430.9,97.7 431.3,96.8 431.6,97.6 432.0,99.0 432.3,98.5 432.7,100.7 433.0,98.6 433.4,100.8 433.7,96.8 434.1,96.3 434.4,100.5 434.8,96.8 435.1,100.5 435.5,97.7 435.8,97.8 436.2,99.8 436.5,100.5 436.9,99.5 437.2,101.6 437.6,101.9 437.9,98.4 438.3,99.8 438.6,99.6 439.0,98.1 439.3,100.1 439.7,100.7 440.0,99.6 440.4,99.4 440.7,96.7 441.1,98.5 441.4,97.0 441.8,100.1 442.1,101.2 442.5,99.5 442.8,99.9 443.2,101.3 443.5,101.5 443.9,97.0 444.2,99.4 444.6,99.6 444.9,96.5 445.3,97.1 445.6,98.1 446.0,98.7 446.3,98.0 446.7,98.5 447.0,97.6 447.4,97.6 447.7,96.8 448.1,98.2 448.4,99.3 448.8,100.3 449.1,98.2 449.5,97.3 449.8,100.6 450.2,102.2 450.5,102.3 450.9,101.1 451.2,99.6 451.6,98.1 451.9,99.8 452.3,100.5 452.6,100.7 453.0,100.2 453.3,100.6 453.7,97.3 454.0,99.1 454.4,98.8 454.7,98.9 455.1,98.7 455.4,99.5 455.8,97.2 456.1,96.8 456.5,98.7 456.8,99.1 457.2,98.0 457.5,98.2 457.9,98.1 458.2,100.5 458.6,101.0 458.9,98.2 459.3,100.5 459.6,100.1 460.0,97.9 460.3,98.1 460.7,101.4 461.0,101.0 461.4,98.3 461.7,99.9 462.1,101.0 462.4,98.8 462.8,98.8 463.1,99.4 463.5,98.8 463.8,100.7 464.2,97.8 464.5,97.6 464.9,96.9 465.2,98.5 465.6,98.3 465.9,99.7 466.3,98.7 466.6,100.7 467.0,100.3 467.3,99.0 467.7,100.8 468.0,98.9 468.4,98.8 468.7,99.8 469.1,98.9 469.4,97.9 469.8,95.6 470.1,99.2 470.5,98.3 470.8,98.5 471.2,100.6 471.5,99.1 471.9,102.0 472.2,101.8 472.6,98.5 472.9,98.2 473.3,101.7 473.6,97.5 474.0,101.2 474.3,101.0 474.7,100.6 475.0,97.3 475.4,101.2 475.7,97.6 476.1,100.1 476.4,97.8 476.8,96.4 477.1,95.3 477.5,94.5 477.8,95.6 478.2,95.1 478.5,94.7 478.9,98.0 479.2,99.6 479.6,97.6 479.9,99.3 480.3,100.4 480.6,96.5 481.0,98.4 481.3,98.5 481.7,97.9 482.0,100.2 482.4,99.5 482.7,97.8 483.1,101.6 483.4,97.8 483.8,97.3 484.1,100.3 484.5,98.5 484.8,99.2 485.2,96.7 485.5,97.3 485.9,98.7 486.2,99.0 486.6,99.6 486.9,98.3 487.3,97.5 487.6,100.6 488.0,96.7 488.3,98.3 488.7,96.9 489.0,100.0 489.4,99.5 489.7,100.0 490.1,99.4 490.4,99.0 490.8,101.0 491.1,97.9 491.5,98.5 491.8,95.5 492.2,97.1 492.5,97.8 492.9,96.6 493.2,98.2 493.6,98.2 493.9,95.9 494.3,98.0 494.6,96.2 495.0,96.9 495.3,99.6 495.7,96.8 496.0,95.4 496.4,96.7 496.7,97.8 497.1,96.3 497.4,96.5 497.8,97.2 498.1,96.3 498.5,96.4 498.8,98.4 499.2,97.2 499.5,97.8 499.9,99.8 500.2,99.0 500.6,98.9 500.9,99.3 501.3,98.1 501.6,97.0 502.0,95.5 502.3,98.8 502.7,96.3 503.0,97.5 503.4,97.4 503.7,100.4 504.1,100.0 504.4,97.3 504.8,98.4 505.1,99.4 505.5,97.9 505.8,97.9 506.2,100.2 506.5,99.6 506.9,99.9 507.2,100.6 507.6,96.6 507.9,99.5 508.3,95.9 508.6,99.4 509.0,96.1 509.3,97.4 509.7,99.3 510.0,97.2 510.4,97.3 510.7,98.5 511.1,99.1 511.4,102.1 511.8,99.4 512.1,101.8 512.5,102.1 512.8,97.8 513.2,98.6 513.5,101.2 513.9,99.7 514.2,97.7 514.6,99.2 514.9,99.0 515.3,101.5 515.6,101.8 516.0,100.0 516.3,102.7 516.7,97.8 517.0,101.3 517.4,97.0 517.7,99.0 518.1,98.3 518.4,100.1 518.8,98.3 519.1,97.1 519.5,98.8 519.8,96.9 520.2,97.2 520.5,99.3 520.9,97.4 521.2,98.5 521.6,100.6 521.9,101.4 522.3,101.6 522.6,101.9 523.0,98.0 523.3,99.1 523.7,98.3 524.0,95.9 524.4,99.8 524.7,99.3 525.1,97.0 525.4,96.8 525.8,96.3 526.1,96.1 526.5,97.9 526.8,96.0 527.2,97.9 527.5,97.8 527.9,99.9 528.2,100.3 528.6,100.2 528.9,100.2 529.3,99.9 529.6,100.5 530.0,99.0 530.3,97.3 530.7,97.1 531.0,99.7 531.4,100.9 531.7,100.7 532.1,100.7 532.4,101.0 532.8,97.7 533.1,101.3 533.5,97.4 533.8,99.8 534.2,99.0 534.5,98.0 534.9,100.4 535.2,98.6 535.6,98.6 535.9,101.4 536.3,102.0 536.6,99.6 537.0,101.0 537.3,101.4 537.7,100.1 538.0,98.3 538.4,100.6 538.7,97.2 539.1,97.1 539.4,99.0 539.8,99.6 540.1,97.0 540.5,97.2 540.8,95.9"/>
<polyline stroke="#b142ff" stroke-width="2.8" points="72.4,274.5 72.4,274.5 72.5,274.2 72.5,273.9 72.5,272.9 72.6,273.1 72.6,271.6 72.6,272.2 72.7,271.9 72.7,270.5 72.7,269.8 72.7,270.5 72.8,270.5 72.8,269.3 72.8,270.1 72.9,269.4 72.9,269.0 72.9,269.8 73.0,268.9 73.0,268.6 73.0,267.4 73.1,267.7 73.1,267.0 73.1,266.2 73.2,266.2 73.2,265.6 73.2,265.9 73.3,264.8 73.3,264.8 73.3,265.1 73.4,264.4 73.4,263.9 73.4,262.7 73.5,263.3 73.5,262.7 73.5,263.0 73.6,262.8 73.6,262.6 73.6,261.6 73.7,261.4 73.7,259.9 73.8,259.4 73.8,260.2 73.8,259.7 73.9,259.7 73.9,258.4 73.9,258.3 74.0,258.3 74.0,257.7 74.0,257.8 74.1,256.8 74.1,257.3 74.1,257.1 74.2,256.8 74.2,255.6 74.3,256.0 74.3,254.7 74.3,254.8 74.4,255.2 74.4,254.3 74.5,253.9 74.5,253.1 74.6,252.8 74.6,252.3 74.6,252.3 74.7,251.8 74.7,251.2 74.8,250.7 74.8,251.5 74.9,250.5 74.9,249.4 75.0,249.3 75.0,249.6 75.1,248.8 75.1,249.6 75.2,248.7 75.2,248.5 75.3,248.1 75.3,246.9 75.4,247.8 75.4,247.3 75.5,245.9 75.5,246.2 75.6,245.8 75.6,245.1 75.7,244.9 75.7,244.3 75.8,244.4 75.8,243.6 75.8,242.6 75.9,242.6 75.9,242.3 76.0,242.8 76.0,242.5 76.1,242.1 76.1,242.1 76.2,242.0 76.2,240.9 76.2,240.0 76.3,240.7 76.3,238.7 76.4,238.4 76.4,238.7 76.4,238.8 76.5,237.1 76.5,237.2 76.5,237.6 76.6,236.1 76.6,236.1 76.6,236.5 76.7,236.7 76.7,235.5 76.7,235.7 76.7,235.5 76.8,235.0 76.8,234.6 76.8,235.0 76.8,234.8 76.9,233.3 76.9,233.1 76.9,232.9 76.9,232.1 77.0,231.8 77.0,232.0 77.0,232.3 77.0,230.8 77.1,230.3 77.1,230.6 77.1,229.7 77.1,228.9 77.2,228.7 77.2,229.6 77.2,228.0 77.2,228.4 77.3,227.7 77.3,228.0 77.3,227.3 77.3,226.7 77.4,226.2 77.4,225.7 77.4,225.2 77.5,224.7 77.5,224.4 77.5,224.6 77.6,224.2 77.6,223.2 77.6,223.5 77.7,224.0 77.7,223.7 77.7,222.5 77.8,222.1 77.8,222.1 77.8,221.6 77.9,221.3 77.9,221.8 78.0,221.1 78.0,219.9 78.0,219.6 78.1,219.5 78.1,219.1 78.2,218.7 78.2,218.5 78.2,218.0 78.3,217.0 78.3,217.6 78.4,217.4 78.4,216.4 78.5,216.2 78.5,216.5 78.5,215.6 78.6,215.8 78.6,214.6 78.7,215.0 78.7,214.7 78.8,213.7 78.8,213.6 78.9,213.1 78.9,212.3 78.9,211.3 79.0,211.3 79.0,211.7 79.1,211.2 79.1,211.8 79.2,211.1 79.2,210.8 79.3,210.0 79.3,210.5 79.4,208.8 79.4,209.6 79.4,208.5 79.5,208.7 79.5,207.8 79.6,207.3 79.6,207.2 79.7,207.8 79.7,206.9 79.8,206.5 79.8,205.8 79.8,205.4 79.9,205.3 79.9,204.9 80.0,205.1 80.0,203.8 80.1,204.0 80.1,203.3 80.1,203.2 80.2,203.4 80.2,203.7 80.3,202.4 80.3,201.9 80.3,202.2 80.4,201.4 80.4,200.2 80.5,200.7 80.5,200.7 80.5,200.0 80.6,200.0 80.6,199.2 80.6,198.2 80.7,198.5 80.7,197.9 80.7,197.0 80.8,197.2 80.8,197.8 80.8,197.0 80.9,196.1 80.9,196.2 80.9,195.7 81.0,194.6 81.0,194.7 81.0,194.9 81.0,193.5 81.1,193.8 81.1,192.8 81.1,192.7 81.2,193.2 81.2,192.3 81.2,192.7 81.2,192.2 81.3,191.6 81.3,190.3 81.3,190.2 81.3,190.5 81.4,189.7 81.4,188.4 81.4,188.7 81.5,188.2 81.5,187.8 81.5,187.3 81.5,187.6 81.6,187.1 81.6,187.6 81.6,187.8 81.7,187.5 81.7,186.8 81.7,185.2 81.8,184.7 81.8,184.7 81.8,185.0 81.9,184.5 81.9,184.0 81.9,184.7 82.0,183.5 82.0,182.6 82.0,182.6 82.1,182.9 82.1,182.1 82.2,182.0 82.2,180.4 82.2,181.2 82.3,180.3 82.3,180.1 82.4,179.9 82.4,179.5 82.4,179.6 82.5,178.4 82.5,178.2 82.6,177.7 82.6,177.6 82.6,177.1 82.7,175.9 82.7,176.9 82.8,176.3 82.8,175.3 82.8,175.8 82.9,176.3 82.9,176.2 83.0,175.0 83.0,174.2 83.0,174.9 83.1,174.1 83.1,173.6 83.2,172.9 83.2,173.3 83.2,171.8 83.3,172.4 83.3,171.9 83.4,171.1 83.4,170.4 83.4,170.6 83.5,169.7 83.5,169.4 83.6,169.0 83.6,169.6 83.7,168.4 83.7,168.6 83.7,168.1 83.8,168.5 83.8,166.7 83.9,167.0 83.9,166.0 83.9,166.8 84.0,165.1 84.0,166.0 84.1,165.3 84.1,164.3 84.2,164.3 84.2,163.7 84.2,163.6 84.3,163.7 84.3,162.9 84.4,163.4 84.4,163.1 84.4,161.7 84.5,161.3 84.5,161.9 84.6,161.2 84.6,160.7 84.7,161.2 84.7,160.1 84.7,159.1 84.8,159.2 84.8,159.1 84.9,159.3 84.9,158.6 84.9,158.3 85.0,157.2 85.0,157.8 85.1,157.3 85.1,155.6 85.2,156.5 85.2,156.6 85.2,156.1 85.3,155.6 85.3,154.2 85.4,155.0 85.4,153.6 85.4,154.1 85.5,153.7 85.5,153.2 85.6,153.4 85.6,153.1 85.6,151.9 85.7,151.7 85.7,151.9 85.8,150.8 85.8,151.1 85.9,149.7 85.9,149.4 85.9,149.2 86.0,148.7 86.0,148.6 86.1,147.9 86.1,147.4 86.1,147.4 86.2,146.7 86.2,146.6 86.3,146.4 86.3,146.8 86.3,145.6 86.4,145.4 86.4,145.6 86.5,144.5 86.5,144.0 86.6,144.2 86.6,144.4 86.6,143.3 86.7,143.7 86.7,143.1 86.8,142.8 86.8,142.7 86.9,142.2 86.9,141.4 86.9,141.2 87.0,140.5 87.0,141.4 87.1,140.7 87.1,140.9 87.2,139.7 87.2,139.9 87.2,139.8 87.3,138.5 87.3,138.7 87.4,138.2 87.4,137.4 87.5,136.9 87.5,136.3 87.6,135.6 87.6,136.2 87.6,135.4 87.7,135.1 87.7,136.4 87.8,135.7 87.8,134.2 87.9,133.8 87.9,132.8 88.0,133.9 88.0,132.6 88.1,133.4 88.1,132.9 88.2,131.2 88.2,130.7 88.2,130.8 88.3,129.8 88.3,131.0 88.4,130.9 88.4,130.1 88.5,129.0 88.5,128.3 88.6,127.6 88.6,127.9 88.7,127.2 88.7,127.2 88.8,127.9 88.8,127.9 88.9,127.1 89.0,127.1 89.0,126.5 89.1,125.4 89.1,124.9 89.2,124.2 89.2,124.8 89.3,124.2 89.3,124.7 89.4,124.0 89.5,124.4 89.5,123.7 89.6,123.1 89.6,122.9 89.7,122.5 89.8,120.9 89.8,121.8 89.9,120.2 89.9,120.5 90.0,120.0 90.1,120.0 90.1,118.7 90.2,119.2 90.2,119.1 90.3,118.1 90.4,118.2 90.4,117.5 90.5,117.7 90.5,117.6 90.6,116.7 90.7,115.7 90.7,116.9 90.8,116.1 90.8,115.1 90.9,115.6 90.9,114.8 91.0,114.0 91.1,113.8 91.1,113.7 91.2,112.8 91.2,112.1 91.3,111.6 91.3,111.8 91.4,112.0 91.4,111.0 91.5,110.8 91.5,111.1 91.6,110.5 91.6,110.6 91.7,109.9 91.7,109.7 91.8,108.6 91.8,108.8 91.8,108.9 91.9,107.0 91.9,107.5 92.0,107.6 92.0,106.5 92.1,105.9 92.1,106.4 92.2,105.4 92.2,105.3 92.3,104.8 92.3,105.6 92.4,104.2 92.4,105.4 92.5,104.3 92.5,103.5 92.5,102.5 92.6,102.3 92.6,101.9 92.7,102.7 92.7,101.9 92.8,100.8 92.8,101.9 92.9,101.5 92.9,101.1 93.0,99.6 93.0,99.9 93.1,100.2 93.1,99.1 93.2,99.1 93.3,98.4 93.3,98.7 93.4,96.8 93.4,98.0 93.5,96.3 93.6,97.5 93.6,96.3 93.7,95.4 93.8,95.1 93.8,95.6 93.9,94.0 94.0,94.7 94.1,94.5 94.2,93.2 94.3,93.5 94.4,93.1 94.5,93.6 94.5,92.1 94.6,92.0 94.7,92.1 94.8,90.8 94.9,90.7 95.0,91.3 95.1,90.8 95.2,90.4 95.3,90.4 95.4,88.8 95.6,89.4 95.7,88.0 95.8,88.8 95.9,88.4 96.0,88.3 96.1,87.9 96.2,87.6 96.3,86.4 96.4,86.6 96.5,85.3 96.6,86.2 96.7,86.6 96.8,86.6 96.9,84.8 97.0,85.4 97.1,84.3 97.2,83.6 97.4,83.3 97.5,83.3 97.6,83.1 97.7,83.5 97.9,82.6 98.0,81.0 98.1,81.5 98.3,81.0 98.4,81.5 98.5,80.2 98.7,80.8 98.8,80.0 99.0,79.0 99.2,78.4 99.3,79.3 99.5,77.6 99.7,77.7 99.9,77.8 100.1,77.2 100.3,77.4 100.5,76.5 100.7,77.3 100.9,76.7 101.1,76.5 101.4,76.8 101.6,75.2 101.9,75.6 102.2,74.9 102.5,75.0 102.8,75.2 103.1,75.5 103.4,74.4 103.8,69.6 104.1,75.2 104.4,74.7 104.8,75.5 105.1,74.7 105.4,75.7 105.8,75.8 106.1,74.9 106.4,75.9 106.7,75.6 107.0,75.2 107.3,75.4 107.5,76.0 107.8,76.6 108.0,76.8 108.2,77.3 108.5,76.6 108.7,76.3 108.9,76.9 109.1,77.6 109.2,77.1 109.4,78.0 109.6,77.4 109.8,78.1 110.0,78.7 110.1,80.4 110.3,80.3 110.5,79.9 110.6,81.2 110.8,81.8 110.9,81.6 111.1,80.6 111.3,82.4 111.4,81.6 111.6,83.1 111.7,83.5 111.9,83.7 112.0,83.1 112.2,83.9 112.3,83.8 112.5,85.2 112.6,84.3 112.8,85.2 112.9,86.0 113.0,86.4 113.2,86.0 113.3,85.6 113.4,87.2 113.6,86.3 113.7,87.0 113.8,86.6 113.9,87.6 114.0,89.2 114.1,89.2 114.2,89.5 114.3,89.6 114.4,89.2 114.5,89.5 114.6,91.0 114.6,89.7 114.7,91.1 114.8,91.1 114.9,92.3 115.0,91.8 115.1,92.1 115.2,93.2 115.3,92.9 115.4,94.2 115.5,94.6 115.6,93.1 115.7,93.3 115.9,93.4 116.0,94.3 116.2,94.6 116.3,95.9 116.4,95.8 116.5,96.2 116.7,97.0 116.8,97.2 116.9,96.5 117.0,97.2 117.1,98.4 117.2,98.8 117.4,98.3 117.5,99.8 117.6,100.2 117.7,99.8 117.8,99.3 117.9,100.5 118.0,99.5 118.1,99.8 118.2,101.0 118.3,101.1 118.4,102.5 118.6,101.6 118.7,101.9 118.8,102.6 118.9,104.0 119.0,104.0 119.1,103.1 119.2,103.6 119.3,105.5 119.4,105.3 119.5,105.6 119.6,105.5 119.7,106.1 119.8,105.9 119.9,107.7 120.0,108.1 120.1,107.6 120.2,108.3 120.3,107.3 120.4,107.9 120.5,108.9 120.6,109.5 120.7,109.8 120.8,109.0 120.9,110.6 121.0,109.3 121.1,110.2 121.2,111.1 121.3,110.4 121.4,111.6 121.5,112.4 121.6,113.5 121.7,113.4 121.8,113.3 121.9,114.0 122.0,113.9 122.2,113.4 122.3,113.8 122.4,114.8 122.5,115.2 122.6,115.0 122.7,115.0 122.8,115.1 122.9,116.8 123.1,116.3 123.2,117.7 123.3,118.6 123.4,118.9 123.5,119.0 123.7,118.2 123.8,119.5 123.9,120.2 124.0,119.0 124.1,120.2 124.3,119.8 124.4,120.5 124.5,120.7 124.6,120.5 124.8,121.5 124.9,121.4 125.0,121.6 125.2,121.9 125.3,122.6 125.4,122.0 125.6,123.4 125.7,123.6 125.8,124.7 126.0,125.0 126.1,124.5 126.3,124.1 126.4,125.0 126.6,125.3 126.7,125.1 126.9,125.6 127.0,127.7 127.2,127.6 127.4,126.8 127.5,126.3 127.7,126.8 127.9,127.9 128.0,129.3 128.2,128.1 128.4,129.8 128.6,130.5 128.8,130.7 128.9,130.2 129.1,130.7 129.3,130.5 129.5,129.3 129.7,129.9 129.9,131.4 130.2,130.0 130.4,130.4 130.6,131.5 130.8,132.5 131.0,132.0 131.3,132.9 131.5,134.0 131.8,134.2 132.0,133.0 132.3,134.7 132.5,133.8 132.8,135.5 133.1,135.1 133.4,135.6 133.7,135.0 134.0,134.3 134.3,134.8 134.7,134.7 135.0,136.1 135.3,136.4 135.6,135.6 136.0,136.4 136.3,135.3 136.7,135.8 137.0,135.9 137.4,136.0 137.7,135.0 138.1,135.1 138.4,134.9 138.7,135.8 139.0,135.3 139.3,136.2 139.7,135.2 139.9,133.9 140.2,133.4 140.5,134.2 140.8,134.4 141.0,133.0 141.3,133.9 141.5,134.8 141.7,134.4 142.0,132.6 142.2,133.1 142.4,133.5 142.7,132.4 142.9,130.5 143.1,130.6 143.3,130.2 143.5,130.5 143.7,132.0 143.9,131.8 144.0,131.8 144.2,130.9 144.4,130.7 144.5,129.1 144.7,129.7 144.8,128.4 145.0,128.5 145.1,126.7 145.2,127.7 145.4,126.1 145.5,126.8 145.6,125.3 145.7,125.5 145.9,125.7 146.0,126.5 146.1,125.8 146.2,124.5 146.3,124.7 146.4,125.0 146.6,124.6 146.7,123.8 146.8,122.5 146.9,123.2 147.0,121.6 147.2,121.9 147.3,121.5 147.4,121.3 147.6,120.0 147.7,120.4 147.8,121.5 147.9,120.7 148.1,120.6 148.2,119.7 148.3,119.2 148.5,119.4 148.6,119.1 148.7,117.5 148.9,118.6 149.0,118.9 149.1,117.1 149.2,117.8 149.4,117.7 149.5,117.4 149.6,117.7 149.8,115.5 149.9,115.2 150.0,116.2 150.2,114.7 150.3,114.6 150.5,113.4 150.6,114.6 150.7,113.1 150.9,112.0 151.0,113.6 151.1,112.7 151.3,111.8 151.4,110.7 151.5,109.9 151.7,111.0 151.8,108.9 152.0,109.1 152.1,109.9 152.2,108.8 152.4,109.9 152.5,109.3 152.6,108.9 152.8,107.8 152.9,107.2 153.1,107.9 153.2,108.0 153.3,106.7 153.5,107.1 153.6,105.1 153.7,106.0 153.9,104.7 154.0,104.7 154.2,104.2 154.3,106.1 154.4,104.1 154.6,103.9 154.7,103.7 154.8,103.5 155.0,104.1 155.1,102.1 155.3,101.8 155.4,101.9 155.5,103.1 155.7,102.7 155.8,102.7 155.9,101.4 156.1,99.7 156.2,100.5 156.4,99.2 156.5,98.5 156.6,98.5 156.8,99.0 156.9,98.4 157.0,98.3 157.2,97.7 157.3,97.2 157.5,96.9 157.6,97.2 157.7,96.9 157.9,96.7 158.0,95.9 158.2,95.4 158.3,96.5 158.4,96.0 158.6,95.8 158.7,94.4 158.9,93.2 159.0,94.6 159.2,93.0 159.3,94.1 159.5,92.4 159.6,92.0 159.8,91.5 159.9,91.0 160.1,91.9 160.3,89.9 160.5,90.4 160.6,90.7 160.8,90.4 161.0,90.4 161.2,89.7 161.3,88.5 161.5,88.0 161.7,89.2 161.9,87.7 162.1,87.1 162.3,87.5 162.5,87.2 162.7,88.8 162.9,87.7 163.1,88.1 163.3,87.2 163.5,87.2 163.7,87.5 163.9,86.0 164.1,84.7 164.3,85.4 164.5,84.2 164.7,83.8 164.9,84.8 165.2,83.2 165.4,83.2 165.6,83.3 165.9,84.0 166.1,83.8 166.4,82.5 166.7,81.2 167.0,80.8 167.3,80.9 167.6,83.1 167.9,81.9 168.2,82.1 168.5,82.3 168.9,81.4 169.2,80.3 169.5,81.2 169.9,80.0 170.2,80.4 170.5,79.7 170.9,81.1 171.2,81.4 171.6,80.2 171.9,79.4 172.3,80.2 172.6,79.9 173.0,80.1 173.3,81.4 173.7,81.3 174.0,81.2 174.3,80.7 174.7,81.2 175.0,80.9 175.3,80.8 175.6,80.2 175.9,82.3 176.3,81.3 176.6,82.7 176.9,83.1 177.2,82.2 177.5,83.1 177.7,83.0 178.0,83.9 178.3,84.6 178.6,82.5 178.8,84.9 179.1,83.6 179.3,83.9 179.6,85.4 179.8,84.5 180.1,85.6 180.3,85.1 180.6,85.3 180.8,87.0 181.1,86.3 181.3,88.3 181.5,86.3 181.8,86.7 182.0,88.8 182.2,87.2 182.5,88.2 182.7,87.0 183.0,89.1 183.2,89.1 183.4,90.2 183.7,90.0 183.9,90.0 184.2,89.5 184.4,89.9 184.6,91.0 184.9,90.5 185.1,91.9 185.4,90.9 185.6,92.9 185.8,92.4 186.1,91.3 186.3,91.5 186.6,91.7 186.8,91.0 187.0,92.0 187.3,92.7 187.5,93.4 187.8,93.6 188.0,93.5 188.3,95.2 188.5,94.7 188.7,93.8 189.0,95.7 189.2,93.6 189.5,94.9 189.7,94.5 189.9,95.8 190.2,96.3 190.4,95.3 190.7,96.4 190.9,95.5 191.1,96.9 191.4,96.5 191.6,97.0 191.9,96.9 192.1,98.4 192.3,97.5 192.6,98.5 192.8,97.8 193.1,97.9 193.3,100.0 193.6,98.5 193.8,98.0 194.1,98.8 194.3,100.5 194.6,100.2 194.8,101.6 195.1,101.9 195.3,102.8 195.6,100.9 195.8,103.2 196.1,101.4 196.3,102.6 196.6,104.6 196.9,103.5 197.1,104.7 197.4,103.8 197.6,102.9 197.9,103.8 198.2,102.6 198.4,103.1 198.7,104.7 199.0,104.8 199.2,106.4 199.5,105.5 199.8,105.1 200.1,104.9 200.4,107.0 200.6,106.9 200.9,106.5 201.2,105.4 201.5,106.5 201.8,105.1 202.1,105.2 202.4,105.9 202.7,105.0 203.0,105.1 203.3,106.5 203.6,107.6 203.9,106.3 204.2,108.5 204.6,106.8 204.9,108.0 205.2,108.2 205.5,109.9 205.9,109.5 206.2,109.8 206.5,108.5 206.9,109.0 207.2,109.3 207.6,110.4 207.9,110.8 208.3,110.8 208.6,110.6 209.0,110.6 209.3,110.6 209.7,109.9 210.0,107.8 210.4,107.7 210.7,107.2 211.0,109.2 211.4,109.5 211.7,108.1 212.0,108.8 212.4,108.3 212.7,110.3 213.0,109.9 213.3,109.4 213.6,108.5 213.8,107.6 214.1,106.9 214.4,105.5 214.6,106.5 214.9,106.6 215.2,106.7 215.4,104.5 215.7,106.8 215.9,105.6 216.2,105.1 216.5,104.0 216.7,105.1 217.0,105.8 217.2,104.4 217.5,105.5 217.7,104.8 218.0,104.9 218.3,103.8 218.5,103.9 218.8,104.4 219.0,103.1 219.3,100.8 219.5,100.9 219.8,101.8 220.0,101.8 220.3,102.1 220.5,101.3 220.8,101.1 221.1,99.6 221.3,101.7 221.6,100.2 221.9,101.3 222.1,100.8 222.4,100.6 222.7,99.2 223.0,96.8 223.3,97.7 223.5,97.8 223.8,96.7 224.1,95.8 224.4,97.9 224.7,97.7 225.0,95.4 225.3,94.8 225.6,97.5 225.9,97.6 226.2,96.1 226.5,96.4 226.8,96.8 227.1,98.4 227.4,99.2 227.7,98.1 228.0,94.9 228.3,94.4 228.6,94.6 228.9,95.2 229.2,94.1 229.6,94.8 229.9,95.7 230.2,95.7 230.5,96.0 230.9,95.3 231.2,93.0 231.5,93.3 231.9,94.0 232.2,92.9 232.6,95.4 232.9,93.0 233.2,95.4 233.6,92.9 233.9,94.5 234.2,93.9 234.6,94.6 234.9,93.7 235.3,95.1 235.6,95.4 236.0,93.9 236.3,94.1 236.6,92.0 237.0,91.9 237.3,94.2 237.7,91.8 238.0,92.4 238.4,92.0 238.7,94.4 239.1,92.0 239.4,93.8 239.8,92.3 240.1,94.5 240.5,91.6 240.8,93.0 241.2,94.1 241.5,92.7 241.9,92.0 242.2,92.3 242.6,91.1 242.9,90.3 243.3,92.9 243.6,93.8 244.0,91.7 244.3,92.9 244.7,94.6 245.0,92.7 245.4,92.8 245.7,92.6 246.1,91.8 246.4,94.6 246.8,93.8 247.1,94.0 247.5,94.5 247.8,94.7 248.2,93.1 248.5,94.6 248.9,90.6 249.2,91.8 249.5,92.0 249.9,93.9 250.2,94.8 250.6,95.4 250.9,96.2 251.2,96.2 251.6,94.4 251.9,94.5 252.2,94.5 252.6,92.4 252.9,94.7 253.3,96.2 253.6,94.2 253.9,95.6 254.2,94.6 254.6,94.0 254.9,94.5 255.2,94.7 255.6,93.3 255.9,95.4 256.2,95.3 256.6,96.6 256.9,95.4 257.2,92.6 257.6,93.0 257.9,97.0 258.2,94.7 258.6,95.7 258.9,97.3 259.2,98.5 259.6,96.9 259.9,94.9 260.2,96.4 260.6,99.3 260.9,96.6 261.2,98.9 261.6,97.4 261.9,96.3 262.2,97.5 262.6,98.1 262.9,100.1 263.2,97.7 263.6,101.0 263.9,98.1 264.2,98.9 264.5,99.4 264.9,101.6 265.2,99.0 265.5,98.5 265.9,96.9 266.2,97.4 266.5,99.4 266.9,100.1 267.2,99.2 267.5,101.6 267.8,98.1 268.2,101.1 268.5,100.3 268.8,100.7 269.2,99.4 269.5,98.1 269.8,97.6 270.2,98.0 270.5,100.8 270.8,103.4 271.2,100.4 271.5,103.6 271.9,102.7 272.2,101.0 272.6,100.4 272.9,100.6 273.3,104.0 273.6,102.3 274.0,103.8 274.3,100.3 274.7,99.5 275.0,101.0 275.4,99.1 275.7,100.9 276.1,101.3 276.4,103.2 276.8,101.7 277.1,98.2 277.5,97.9 277.8,97.7 278.2,100.4 278.5,100.9 278.9,101.1 279.2,102.4 279.6,99.1 279.9,100.4 280.3,101.7 280.6,101.1 281.0,99.7 281.3,98.5 281.6,98.6 282.0,102.4 282.3,98.4 282.7,97.7 283.0,101.2 283.4,100.3 283.7,100.0 284.0,101.0 284.4,99.3 284.7,100.1 285.1,99.9 285.4,99.2 285.8,100.8 286.1,98.6 286.4,97.9 286.8,98.7 287.1,99.6 287.5,100.8 287.8,100.9 288.1,98.3 288.5,96.4 288.8,97.9 289.2,95.2 289.5,96.0 289.8,98.1 290.2,94.1 290.5,95.8 290.9,95.5 291.2,97.4 291.6,98.1 291.9,96.9 292.2,100.1 292.6,98.3 292.9,96.2 293.3,99.4 293.6,98.9 294.0,97.6 294.3,99.3 294.7,98.5 295.0,95.8 295.3,97.9 295.7,96.5 296.0,94.1 296.4,95.1 296.7,94.7 297.1,97.8 297.4,95.2 297.8,97.0 298.1,97.2 298.4,95.3 298.8,100.2 299.1,100.3 299.5,100.5 299.8,96.9 300.2,96.2 300.5,95.0 300.9,99.2 301.2,98.3 301.6,95.3 301.9,94.8 302.3,98.4 302.6,95.2 303.0,95.2 303.3,96.9 303.7,97.3 304.0,96.2 304.4,98.0 304.7,96.1 305.1,95.8 305.4,96.7 305.8,96.1 306.1,95.1 306.5,97.8 306.8,97.8 307.2,95.5 307.5,97.0 307.9,96.2 308.2,95.8 308.6,95.6 308.9,96.3 309.3,95.1 309.6,95.5 310.0,97.7 310.3,94.0 310.7,97.9 311.0,94.9 311.4,95.1 311.7,99.7 312.1,96.4 312.4,96.3 312.8,99.6 313.1,96.8 313.5,97.0 313.8,97.5 314.2,97.1 314.5,98.3 314.8,96.8 315.2,98.5 315.5,96.0 315.9,94.8 316.2,98.0 316.6,99.4 316.9,99.4 317.3,96.1 317.6,98.3 318.0,99.0 318.3,98.6 318.7,99.7 319.0,100.8 319.4,99.4 319.7,101.1 320.0,98.9 320.4,99.4 320.7,100.9 321.1,97.0 321.4,98.5 321.8,98.4 322.1,96.4 322.5,98.3 322.8,98.3 323.2,97.8 323.5,96.0 323.8,96.4 324.2,97.9 324.5,96.2 324.9,98.6 325.2,98.6 325.6,95.3 325.9,98.1 326.2,98.4 326.6,98.6 326.9,100.1 327.3,100.4 327.6,98.6 328.0,99.4 328.3,101.3 328.7,101.8 329.0,98.8 329.3,99.3 329.7,97.1 330.0,99.5 330.4,99.9 330.7,96.9 331.1,101.9 331.4,100.1 331.8,100.7 332.1,100.5 332.5,102.5 332.8,99.3 333.2,101.2 333.5,101.8 333.9,99.9 334.2,99.6 334.6,100.1 334.9,99.9 335.3,97.6 335.6,99.7 336.0,99.3 336.3,98.3 336.7,100.9 337.0,98.0 337.4,97.9 337.7,97.1 338.1,98.2 338.4,98.3 338.8,100.5 339.1,95.8 339.5,99.1 339.8,97.1 340.2,100.9 340.5,99.2 340.9,100.7 341.2,100.9 341.6,101.7 341.9,102.2 342.3,99.9 342.6,99.0 343.0,97.3 343.3,97.0 343.7,100.4 344.0,98.0 344.4,100.6 344.7,99.7 345.1,102.2 345.4,99.8 345.8,99.0 346.1,99.9 346.5,100.1 346.8,97.8 347.2,96.9 347.5,98.3 347.9,97.2 348.2,101.1 348.6,98.9 348.9,100.5 349.3,101.3 349.6,99.5 350.0,101.1 350.3,98.9 350.7,96.4 351.0,98.5 351.4,97.9 351.7,97.9 352.1,98.6 352.4,100.9 352.8,101.0 353.1,101.4 353.5,98.9 353.8,101.7 354.2,100.9 354.5,97.2 354.8,100.0 355.2,97.2 355.5,100.2 355.9,98.8 356.2,99.3 356.6,100.3 356.9,100.7 357.3,98.1 357.6,100.2 358.0,97.0 358.3,97.2 358.7,97.6 359.0,95.6 359.4,100.0 359.7,98.3 360.1,96.8 360.4,98.8 360.8,96.7 361.1,95.8 361.5,96.5 361.8,96.0 362.2,96.1 362.5,99.9 362.9,95.7 363.2,98.2 363.6,98.6 363.9,98.8 364.3,101.2 364.6,96.4 365.0,100.5 365.3,96.8 365.7,96.5 366.0,97.8 366.4,98.1 366.7,98.1 367.1,97.8 367.4,102.3 367.8,102.7 368.1,101.1 368.5,102.2 368.8,97.9 369.2,100.1 369.5,97.7 369.9,95.8 370.2,100.8 370.6,97.4 370.9,96.6 371.3,97.0 371.6,99.6 372.0,99.4 372.3,100.1 372.7,96.8 373.0,96.6 373.4,100.8 373.7,97.7 374.1,97.5 374.4,101.7 374.8,98.0 375.1,99.7 375.5,97.3 375.8,99.1 376.2,98.3 376.5,101.1 376.9,98.7 377.2,97.8 377.6,99.4 377.9,97.8 378.3,98.6 378.6,98.0 379.0,97.4 379.3,96.4 379.7,96.5 380.0,99.1 380.4,96.6 380.7,101.2 381.1,97.8 381.4,100.6 381.8,99.7 382.1,98.1 382.5,98.3 382.8,97.2 383.2,102.7 383.5,102.1 383.9,99.2 384.2,98.0 384.6,101.1 384.9,98.8 385.3,99.7 385.6,99.4 386.0,95.3 386.3,99.4 386.7,98.0 387.0,96.8 387.4,96.6 387.7,96.7 388.1,98.8 388.4,95.9 388.8,95.1 389.1,95.8 389.5,98.8 389.8,97.5 390.2,97.6 390.5,100.2 390.9,97.9 391.2,95.4 391.6,96.9 391.9,97.2 392.3,99.9 392.6,95.4 393.0,98.7 393.3,99.2 393.7,96.0 394.0,100.4 394.4,97.1 394.7,96.2 395.1,100.8 395.4,101.4 395.8,99.5 396.1,98.6 396.5,98.2 396.8,102.0 397.2,98.7 397.5,100.2 397.9,97.4 398.2,98.7 398.6,97.3 398.9,97.5 399.3,98.6 399.6,95.6 400.0,97.4 400.3,98.6 400.7,96.1 401.0,95.7 401.4,96.4 401.7,96.0 402.1,98.5 402.4,95.2 402.8,99.2 403.1,95.5 403.5,96.1 403.8,97.7 404.2,96.8 404.5,97.1 404.9,96.3 405.2,96.9 405.6,101.4 405.9,102.1 406.3,101.5 406.6,99.0 407.0,97.0 407.3,98.3 407.7,99.1 408.0,98.1 408.4,99.2 408.7,98.5 409.1,100.5 409.4,101.4 409.8,100.8 410.1,100.3 410.5,101.7 410.8,100.1 411.2,96.8 411.5,101.5 411.9,101.0 412.2,97.0 412.6,97.3 412.9,101.4 413.3,99.2 413.6,100.8 414.0,100.2 414.3,100.2 414.7,97.4 415.0,100.1 415.4,99.1 415.7,98.6 416.1,99.3 416.4,101.8 416.8,98.7 417.1,101.6 417.5,100.4 417.8,98.2 418.2,96.6 418.5,100.3 418.9,96.1 419.2,100.3 419.6,96.6 419.9,99.8 420.3,95.8 420.6,96.9 421.0,102.1 421.3,99.0 421.7,98.6 422.0,99.6 422.4,99.3 422.7,97.8 423.1,102.1 423.4,98.7 423.8,99.5 424.1,103.2 424.5,99.6 424.8,96.7 425.2,96.1 425.5,97.7 425.9,98.5 426.2,101.6 426.6,99.2 426.9,98.8 427.3,98.7 427.6,97.6 428.0,98.1 428.3,100.8 428.7,100.9 429.0,99.5 429.4,97.3 429.7,100.8 430.1,99.0 430.4,101.6 430.8,100.2 431.1,99.0 431.5,97.1 431.8,98.5 432.2,100.6 432.5,99.7 432.9,98.1 433.2,99.7 433.6,97.8 433.9,97.9 434.3,100.0 434.6,101.0 435.0,100.2 435.3,98.1 435.7,97.6 436.0,100.8 436.4,98.1 436.7,100.8 437.1,101.1 437.4,97.3 437.8,102.6 438.1,102.7 438.5,98.5 438.8,99.2 439.2,102.2 439.5,98.6 439.9,99.2 440.2,97.5 440.6,101.1 440.9,98.6 441.3,101.1 441.6,101.2 442.0,98.7 442.3,97.5 442.7,95.8 443.0,99.3 443.4,100.0 443.7,95.3 444.1,99.5 444.4,96.5 444.8,97.8 445.1,97.4 445.5,98.5 445.8,97.4 446.2,100.6 446.5,96.5 446.9,99.9 447.2,100.6 447.6,101.8 447.9,99.5 448.3,98.4 448.6,96.8 449.0,97.1 449.3,99.4 449.7,95.0 450.0,99.7 450.4,100.1 450.7,98.8 451.1,101.2 451.4,98.0 451.8,97.1 452.1,99.6 452.5,99.1 452.8,97.1 453.2,99.0 453.5,96.0 453.9,95.7 454.2,99.9 454.6,98.3 454.9,99.9 455.3,99.0 455.6,98.9 456.0,101.4 456.3,101.8 456.7,98.5 457.0,96.9 457.4,96.0 457.7,97.9 458.1,95.8 458.4,96.9 458.8,95.0 459.1,96.5 459.5,100.1 459.8,100.8 460.2,101.6 460.5,97.7 460.9,99.2 461.2,98.9 461.6,100.4 461.9,97.8 462.3,100.2 462.6,96.8 463.0,97.4 463.3,96.5 463.7,96.2 464.0,99.1 464.4,100.1 464.7,99.0 465.1,101.4 465.4,101.0 465.8,101.6 466.1,99.0 466.5,97.7 466.8,99.5 467.2,97.4 467.5,100.6 467.9,101.2 468.2,98.4 468.6,100.7 468.9,99.9 469.3,101.8 469.6,97.3 470.0,97.5 470.3,97.6 470.7,100.1 471.0,97.3 471.4,98.1 471.7,99.3 472.1,100.9 472.4,100.4 472.8,96.5 473.1,97.9 473.5,100.5 473.8,97.8 474.2,96.7 474.5,96.3 474.9,97.6 475.2,98.6 475.6,100.1 475.9,99.7 476.3,100.5 476.6,97.3 477.0,97.7 477.3,98.8 477.7,100.3 478.0,98.7 478.4,100.4 478.7,98.7 479.1,100.9 479.4,99.0 479.8,97.7 480.1,97.7 480.5,99.4 480.8,97.5 481.2,97.6 481.5,97.1 481.9,101.3 482.2,100.6 482.6,98.9 482.9,100.3 483.3,101.0 483.6,101.4 484.0,101.9 484.3,97.7 484.7,99.2 485.0,97.6 485.4,97.8 485.7,98.7 486.1,99.1 486.4,95.4 486.8,95.6 487.1,99.0 487.5,96.5 487.8,95.1 488.2,98.3 488.5,98.4 488.9,98.3 489.2,101.4 489.6,100.8 489.9,99.2 490.3,100.6 490.6,100.5 491.0,96.7 491.3,95.5 491.7,97.1 492.0,99.2 492.4,101.6 492.7,101.6 493.1,101.2 493.4,99.8 493.8,100.9 494.1,98.9 494.5,96.6 494.8,96.8 495.2,97.8 495.5,97.2 495.9,100.0 496.2,99.4 496.6,99.6 496.9,97.0 497.3,99.3 497.6,96.8 498.0,99.6 498.3,96.7 498.7,97.1 499.0,96.8 499.4,99.0 499.7,99.3 500.1,100.9 500.4,97.8 500.8,97.4 501.1,96.6 501.5,98.6 501.8,95.8 502.2,99.0 502.5,99.4 502.9,99.5 503.2,99.7 503.6,101.8 503.9,102.0 504.3,98.5 504.6,99.9 505.0,101.8 505.3,98.6 505.7,98.3 506.0,102.0 506.4,99.9 506.7,101.4 507.1,102.7 507.4,99.0 507.8,100.1 508.1,98.4 508.5,101.1 508.8,98.4 509.2,98.8 509.5,100.5 509.9,98.2 510.2,101.4 510.6,98.4 510.9,100.9 511.3,101.6 511.6,97.3 512.0,99.5 512.3,99.8 512.7,101.3 513.0,99.0 513.4,100.1 513.7,97.2 514.1,98.3 514.4,99.4 514.8,96.4 515.1,96.5 515.5,96.4 515.8,97.2 516.2,97.6 516.5,97.8 516.9,98.5 517.2,96.0 517.6,97.1 517.9,96.7 518.3,98.8 518.6,98.7 519.0,99.4 519.3,98.8 519.7,95.9 520.0,97.4 520.4,96.4 520.7,97.6 521.1,99.4 521.4,98.5 521.8,100.4 522.1,95.9 522.5,100.0 522.8,97.7 523.2,98.6 523.5,95.9 523.9,97.6 524.2,96.1 524.6,100.5 524.9,97.8 525.3,101.3 525.6,100.8 526.0,97.7 526.3,96.6 526.7,97.8 527.0,97.8 527.4,102.7 527.7,99.4 528.1,102.5 528.4,98.2 528.8,99.7 529.1,96.9 529.5,97.4 529.8,96.8 530.2,97.1 530.5,98.4 530.9,100.2 531.2,100.4 531.6,98.1 531.9,100.0 532.3,99.7 532.6,100.9 533.0,97.5 533.3,99.4 533.7,98.4 534.0,101.7 534.4,99.2 534.7,100.3 535.1,96.7 535.4,100.4 535.8,99.2 536.1,96.3 536.5,99.4 536.8,96.3 537.2,98.9 537.5,100.5 537.9,98.1 538.2,98.7 538.6,99.7 538.9,96.2 539.3,96.1 539.6,96.3 540.0,100.2 540.3,99.1 540.7,98.6"/>
<polyline stroke="#ff1496" stroke-width="2.7" points="74.7,274.5 74.7,274.5 74.8,274.4 74.8,273.6 74.8,272.8 74.9,271.6 74.9,272.4 75.0,271.4 75.0,271.0 75.0,271.9 75.1,270.6 75.1,270.9 75.1,270.2 75.2,270.2 75.2,269.7 75.3,269.9 75.3,268.8 75.3,269.0 75.4,268.6 75.4,267.9 75.5,267.2 75.5,266.6 75.5,266.4 75.6,265.4 75.6,265.6 75.6,265.8 75.7,265.1 75.7,264.5 75.8,263.9 75.8,264.6 75.8,264.4 75.9,264.3 75.9,264.1 75.9,263.8 76.0,262.7 76.0,263.4 76.1,262.2 76.1,262.0 76.1,260.7 76.2,261.3 76.2,260.0 76.3,260.8 76.3,260.1 76.3,259.5 76.4,259.3 76.4,258.3 76.5,258.3 76.5,257.3 76.5,257.2 76.6,256.9 76.6,256.3 76.7,256.3 76.7,255.4 76.8,255.0 76.8,255.2 76.8,255.9 76.9,255.3 76.9,254.5 77.0,253.9 77.0,253.5 77.1,253.6 77.2,253.6 77.2,253.4 77.3,252.5 77.3,252.8 77.4,252.5 77.4,252.4 77.5,251.3 77.6,251.0 77.6,250.1 77.7,250.3 77.8,249.1 77.8,249.4 77.9,248.6 78.0,248.8 78.0,248.1 78.1,247.6 78.2,248.1 78.2,247.9 78.3,247.6 78.4,246.5 78.4,246.7 78.5,245.9 78.6,245.1 78.6,245.2 78.7,245.1 78.8,244.2 78.8,244.5 78.9,244.3 78.9,242.8 79.0,242.9 79.1,242.7 79.1,242.9 79.2,242.5 79.2,242.4 79.3,241.4 79.4,241.5 79.4,241.0 79.5,241.3 79.5,240.7 79.6,239.5 79.6,240.0 79.7,238.5 79.7,238.0 79.7,238.2 79.8,238.4 79.8,238.6 79.9,237.7 79.9,236.8 79.9,237.0 80.0,235.6 80.0,236.3 80.0,235.1 80.1,234.5 80.1,234.3 80.1,235.0 80.2,234.9 80.2,233.6 80.2,234.6 80.2,234.1 80.3,232.9 80.3,232.1 80.3,231.9 80.3,231.9 80.4,231.2 80.4,230.7 80.4,230.5 80.4,231.1 80.5,229.5 80.5,230.6 80.5,229.6 80.5,229.4 80.6,228.4 80.6,228.5 80.6,226.8 80.7,226.9 80.7,227.2 80.7,227.2 80.7,226.6 80.8,226.0 80.8,225.1 80.8,225.2 80.9,225.3 80.9,225.0 81.0,223.8 81.0,224.3 81.0,224.2 81.1,223.0 81.1,222.5 81.1,223.4 81.2,223.3 81.2,222.5 81.3,222.7 81.3,221.5 81.4,221.1 81.4,220.0 81.4,220.0 81.5,220.4 81.5,218.8 81.6,218.4 81.6,217.9 81.7,218.4 81.7,218.3 81.8,217.9 81.8,218.2 81.9,217.5 81.9,217.1 82.0,216.7 82.0,216.3 82.1,215.4 82.1,215.3 82.2,215.9 82.2,214.8 82.3,214.7 82.3,214.7 82.4,214.2 82.4,213.2 82.5,212.9 82.6,212.3 82.6,212.8 82.7,212.6 82.7,211.4 82.8,211.4 82.8,210.7 82.9,211.0 82.9,210.0 83.0,210.5 83.0,209.1 83.1,209.3 83.1,208.8 83.2,209.0 83.2,208.5 83.3,208.6 83.4,207.9 83.4,206.6 83.5,206.8 83.5,207.1 83.6,206.1 83.6,206.2 83.7,204.9 83.7,205.3 83.8,204.5 83.8,205.0 83.9,203.2 83.9,203.2 84.0,203.6 84.0,202.8 84.1,202.6 84.1,202.2 84.2,201.2 84.2,201.0 84.3,201.3 84.3,200.7 84.4,199.9 84.4,200.4 84.5,200.5 84.5,200.3 84.5,198.7 84.6,198.5 84.6,199.4 84.7,197.8 84.7,198.1 84.8,197.3 84.8,197.2 84.8,195.7 84.9,196.9 84.9,196.6 85.0,195.3 85.0,195.6 85.0,194.0 85.1,195.0 85.1,194.0 85.1,194.3 85.2,194.2 85.2,192.8 85.3,193.6 85.3,191.7 85.3,191.2 85.4,191.1 85.4,190.6 85.4,191.0 85.5,190.0 85.5,190.5 85.5,190.5 85.6,190.6 85.6,189.6 85.6,189.1 85.7,189.3 85.7,189.1 85.8,189.1 85.8,187.9 85.8,187.0 85.9,186.1 85.9,186.3 85.9,186.0 86.0,184.9 86.0,185.1 86.1,184.6 86.1,184.9 86.1,184.5 86.2,183.8 86.2,184.0 86.3,183.8 86.3,182.8 86.4,183.2 86.4,181.9 86.5,181.7 86.5,182.7 86.5,182.0 86.6,181.7 86.6,181.4 86.7,180.1 86.7,180.3 86.8,179.8 86.8,179.4 86.9,179.2 86.9,179.5 87.0,177.9 87.0,177.6 87.1,177.3 87.1,177.5 87.2,176.5 87.2,177.3 87.3,176.0 87.3,176.0 87.4,175.6 87.4,175.3 87.5,175.0 87.5,174.6 87.6,173.3 87.6,173.4 87.7,173.6 87.7,172.6 87.8,172.8 87.8,172.1 87.9,172.1 87.9,172.3 88.0,172.8 88.1,170.8 88.1,170.6 88.2,170.1 88.2,169.9 88.3,169.2 88.3,170.4 88.4,168.7 88.4,168.9 88.5,169.3 88.6,168.3 88.6,167.6 88.7,167.3 88.7,167.1 88.8,166.5 88.8,166.3 88.9,165.8 89.0,164.8 89.0,165.7 89.1,165.4 89.1,164.4 89.2,163.3 89.3,164.2 89.3,163.0 89.4,162.7 89.4,162.1 89.5,162.9 89.5,162.3 89.6,161.6 89.7,161.5 89.7,161.4 89.8,160.7 89.8,160.6 89.9,160.4 89.9,158.4 90.0,159.5 90.1,159.2 90.1,158.0 90.2,158.9 90.2,158.4 90.3,157.8 90.3,156.5 90.4,156.8 90.5,157.0 90.5,156.4 90.6,155.3 90.6,156.1 90.7,155.2 90.8,154.6 90.8,154.4 90.9,153.5 90.9,153.3 91.0,152.3 91.0,153.4 91.1,151.6 91.2,151.6 91.2,151.2 91.3,151.2 91.3,150.9 91.4,151.6 91.5,150.3 91.5,151.4 91.6,150.2 91.7,150.9 91.7,149.5 91.8,148.7 91.8,149.5 91.9,148.0 92.0,148.6 92.0,148.4 92.1,146.9 92.2,146.7 92.2,146.7 92.3,146.8 92.4,146.4 92.4,145.5 92.5,145.3 92.6,145.4 92.7,144.1 92.7,145.0 92.8,144.5 92.9,143.0 92.9,143.3 93.0,143.2 93.1,142.9 93.1,141.7 93.2,141.3 93.3,141.1 93.4,140.4 93.4,140.5 93.5,140.6 93.6,140.1 93.7,140.4 93.7,139.4 93.8,139.0 93.9,138.1 93.9,139.1 94.0,138.3 94.1,138.5 94.2,138.2 94.2,136.5 94.3,137.0 94.4,136.4 94.4,136.5 94.5,135.0 94.6,135.8 94.7,135.6 94.8,135.1 94.9,134.5 94.9,135.0 95.0,133.5 95.1,133.6 95.2,132.7 95.3,132.8 95.4,132.4 95.6,132.7 95.7,132.2 95.8,131.6 95.9,130.4 96.1,130.3 96.2,130.0 96.3,129.6 96.5,129.9 96.6,130.0 96.8,128.8 96.9,129.3 97.0,128.4 97.2,127.7 97.3,127.6 97.5,127.7 97.6,127.0 97.7,127.4 97.9,125.9 98.0,125.7 98.2,125.6 98.3,125.6 98.5,125.3 98.6,125.4 98.8,125.4 98.9,124.8 99.1,124.2 99.2,124.7 99.4,122.9 99.6,122.3 99.8,122.1 99.9,121.4 100.1,122.4 100.3,121.4 100.5,121.7 100.7,120.9 100.9,120.0 101.1,120.9 101.3,120.6 101.6,119.1 101.8,120.0 102.0,119.5 102.3,118.7 102.5,118.8 102.8,119.4 103.0,118.3 103.3,118.9 103.6,118.7 104.0,118.7 104.3,118.1 104.6,119.0 105.0,118.2 105.3,118.2 105.6,117.8 106.0,117.3 106.3,118.2 106.7,117.8 107.0,119.0 107.4,118.2 107.7,117.8 108.0,118.4 108.3,118.4 108.6,119.7 108.9,119.0 109.1,120.4 109.3,119.1 109.6,119.5 109.8,120.0 110.0,120.9 110.2,121.0 110.4,121.1 110.6,121.5 110.8,122.6 111.0,121.5 111.1,122.5 111.3,121.8 111.5,122.6 111.7,123.2 111.8,122.9 112.0,122.9 112.2,123.3 112.3,123.5 112.5,123.5 112.6,124.4 112.8,125.3 112.9,125.4 113.1,127.0 113.2,127.5 113.4,127.4 113.5,127.6 113.7,127.0 113.8,128.0 114.0,127.0 114.1,127.1 114.2,127.4 114.4,128.2 114.5,129.2 114.6,128.3 114.8,129.2 114.9,130.0 115.1,130.9 115.2,130.8 115.3,130.6 115.5,130.5 115.6,131.4 115.7,132.2 115.9,132.5 116.0,132.4 116.1,131.9 116.3,132.0 116.4,132.4 116.5,133.3 116.7,134.3 116.8,134.1 117.0,135.4 117.1,135.4 117.3,136.7 117.4,136.5 117.6,137.0 117.8,136.1 117.9,136.7 118.1,137.5 118.2,136.2 118.4,138.2 118.5,137.8 118.7,138.8 118.9,137.7 119.0,138.4 119.2,139.0 119.4,139.1 119.6,139.4 119.7,140.1 119.9,139.3 120.1,140.8 120.3,140.8 120.5,142.2 120.7,142.6 120.8,142.0 121.0,142.2 121.2,143.4 121.5,143.7 121.7,143.6 121.9,144.0 122.1,144.4 122.3,143.8 122.5,143.9 122.7,143.7 122.9,144.7 123.1,144.5 123.3,145.7 123.5,145.8 123.7,146.7 123.9,146.5 124.1,146.0 124.2,146.5 124.4,146.8 124.6,147.0 124.7,147.9 124.9,147.6 125.1,147.5 125.2,147.8 125.4,148.8 125.6,148.3 125.7,149.4 125.9,150.5 126.1,150.9 126.3,150.4 126.5,150.5 126.7,150.3 127.0,151.1 127.2,151.2 127.4,151.9 127.7,152.8 128.0,152.7 128.2,151.7 128.5,152.0 128.8,153.1 129.1,153.8 129.4,153.1 129.7,153.7 130.1,152.7 130.4,152.7 130.8,154.2 131.2,154.1 131.5,153.2 131.8,153.7 132.0,153.0 132.3,152.9 132.5,152.3 132.8,152.2 133.0,152.4 133.2,151.2 133.5,151.6 133.7,151.9 133.9,150.0 134.2,150.1 134.4,150.1 134.7,150.2 134.9,149.7 135.1,150.5 135.4,148.9 135.6,149.0 135.8,148.3 136.0,147.8 136.2,147.9 136.5,146.0 136.7,147.4 136.9,147.1 137.1,145.9 137.3,147.3 137.4,145.7 137.6,146.0 137.8,144.9 138.0,144.4 138.1,144.9 138.3,145.4 138.5,143.5 138.6,143.5 138.8,143.9 139.0,144.6 139.1,143.2 139.3,144.0 139.5,143.0 139.7,142.6 139.9,142.9 140.0,141.5 140.2,141.9 140.4,140.6 140.6,141.2 140.8,141.8 141.0,139.5 141.1,139.1 141.3,139.8 141.4,140.4 141.6,139.5 141.7,140.2 141.9,138.5 142.0,139.3 142.1,137.1 142.2,137.7 142.4,136.5 142.5,137.2 142.6,135.2 142.7,135.5 142.9,136.6 143.0,136.1 143.1,135.3 143.3,134.7 143.4,135.3 143.5,133.3 143.7,132.8 143.8,132.5 144.0,133.8 144.1,134.3 144.2,132.6 144.4,133.5 144.5,133.0 144.7,131.4 144.8,131.7 145.0,131.7 145.1,130.4 145.3,132.1 145.4,129.9 145.6,129.4 145.7,129.9 145.9,128.9 146.0,129.1 146.2,128.5 146.3,127.0 146.5,127.4 146.6,128.2 146.8,126.6 146.9,126.1 147.1,127.3 147.2,125.4 147.4,125.8 147.5,126.8 147.7,126.1 147.8,124.0 148.0,123.5 148.1,123.9 148.3,124.1 148.4,124.2 148.6,122.7 148.7,122.9 148.9,122.6 149.0,121.9 149.2,122.3 149.3,121.9 149.5,121.5 149.6,122.2 149.7,121.0 149.9,121.1 150.0,120.8 150.1,119.2 150.3,118.1 150.4,117.9 150.5,119.5 150.7,119.5 150.8,118.9 150.9,116.9 151.0,116.8 151.2,117.8 151.3,116.5 151.4,115.9 151.5,116.7 151.7,116.3 151.8,114.5 151.9,115.2 152.0,115.1 152.1,114.8 152.3,114.6 152.4,113.8 152.5,112.0 152.6,112.3 152.7,111.9 152.8,112.7 153.0,112.3 153.1,113.0 153.2,111.2 153.3,110.8 153.4,110.3 153.5,110.2 153.6,111.3 153.8,110.2 153.9,109.1 154.0,109.5 154.1,109.4 154.2,108.4 154.3,107.5 154.4,108.8 154.5,108.4 154.6,107.0 154.7,107.4 154.8,106.1 154.9,106.2 155.0,106.5 155.1,105.8 155.2,104.9 155.4,105.5 155.5,104.0 155.6,104.5 155.8,103.3 155.9,103.7 156.0,103.1 156.2,102.6 156.3,102.7 156.5,102.2 156.6,102.6 156.8,100.9 156.9,102.6 157.1,101.6 157.2,99.7 157.4,98.8 157.5,98.6 157.7,99.0 157.9,99.5 158.0,100.0 158.2,99.9 158.3,99.7 158.5,99.2 158.7,98.8 158.8,98.7 159.0,98.0 159.2,96.6 159.3,97.4 159.5,96.7 159.7,96.7 159.9,95.4 160.0,96.3 160.2,94.5 160.4,94.5 160.6,93.4 160.8,94.8 161.0,94.6 161.2,94.6 161.4,92.8 161.6,92.8 161.8,93.7 162.0,93.3 162.2,91.1 162.4,91.7 162.7,90.5 162.9,92.0 163.1,91.8 163.4,91.8 163.6,91.3 163.9,90.2 164.1,89.9 164.4,90.3 164.7,89.5 164.9,90.5 165.2,89.2 165.5,89.0 165.8,90.0 166.1,88.2 166.5,88.1 166.8,87.3 167.1,89.0 167.5,87.9 167.8,87.8 168.1,88.9 168.5,89.0 168.8,87.1 169.2,86.6 169.5,88.1 169.9,88.0 170.2,87.2 170.6,87.9 170.9,86.6 171.3,88.0 171.6,87.0 171.9,87.1 172.3,86.9 172.6,88.2 172.9,88.8 173.2,88.9 173.6,90.1 173.9,88.8 174.2,89.4 174.5,89.4 174.8,90.4 175.1,90.8 175.4,89.0 175.7,90.5 176.0,89.1 176.2,89.3 176.5,89.9 176.7,91.7 177.0,90.2 177.2,91.5 177.5,91.4 177.7,92.2 177.9,92.0 178.2,91.4 178.4,91.6 178.6,93.8 178.8,93.4 179.0,94.8 179.3,95.4 179.5,94.9 179.7,95.8 179.9,94.7 180.1,94.5 180.4,95.8 180.6,94.7 180.8,94.6 181.0,95.2 181.3,95.5 181.5,97.4 181.7,97.8 181.9,97.8 182.2,98.5 182.4,97.2 182.6,97.5 182.8,98.0 183.0,98.9 183.3,97.8 183.5,98.3 183.7,98.8 183.9,98.4 184.1,98.9 184.3,98.7 184.6,99.7 184.8,100.6 185.0,101.5 185.2,102.6 185.4,101.6 185.6,102.1 185.8,103.7 186.1,101.6 186.3,102.8 186.5,101.8 186.7,101.5 186.9,104.1 187.1,103.9 187.3,103.7 187.6,105.0 187.8,105.7 188.0,105.1 188.3,105.1 188.5,104.1 188.8,106.8 189.0,106.5 189.3,104.9 189.5,106.3 189.8,106.4 190.0,108.9 190.3,107.7 190.6,107.3 190.8,109.3 191.1,107.6 191.4,107.1 191.7,107.0 191.9,107.3 192.2,108.0 192.5,107.7 192.8,109.1 193.0,110.0 193.3,108.2 193.6,108.2 193.9,110.5 194.1,110.6 194.4,111.6 194.7,110.1 195.0,112.3 195.3,111.8 195.5,111.6 195.8,112.0 196.1,113.1 196.4,112.8 196.7,113.0 197.0,111.6 197.3,112.4 197.6,111.9 197.9,112.3 198.2,114.4 198.5,112.5 198.8,115.1 199.1,115.3 199.4,113.9 199.7,114.4 200.0,115.9 200.3,115.7 200.6,116.5 200.9,116.8 201.3,114.3 201.6,116.0 202.0,115.3 202.3,114.0 202.7,113.3 203.0,114.5 203.4,115.4 203.7,114.8 204.1,115.4 204.4,114.7 204.7,115.4 205.0,116.0 205.3,113.1 205.6,114.8 205.9,115.2 206.2,112.2 206.5,113.0 206.8,113.5 207.1,112.9 207.3,112.4 207.6,112.6 207.8,111.9 208.1,113.0 208.3,113.4 208.6,112.8 208.8,111.8 209.0,110.9 209.3,109.9 209.5,109.8 209.7,109.1 210.0,109.2 210.2,107.7 210.4,108.7 210.7,109.4 210.9,107.7 211.1,109.2 211.4,108.0 211.6,108.7 211.9,109.4 212.1,106.6 212.3,107.5 212.6,106.5 212.8,106.3 213.1,108.0 213.3,105.5 213.5,107.0 213.8,107.8 214.0,105.9 214.2,106.5 214.5,104.6 214.7,106.4 215.0,106.3 215.2,105.4 215.4,106.1 215.7,104.5 215.9,104.3 216.1,102.0 216.4,104.3 216.6,102.3 216.8,103.2 217.1,102.4 217.3,101.2 217.5,102.2 217.7,103.4 218.0,102.2 218.2,100.0 218.4,101.1 218.7,101.9 218.9,98.6 219.1,98.1 219.3,100.6 219.6,99.7 219.8,100.2 220.0,98.6 220.3,99.3 220.5,97.8 220.8,97.6 221.0,98.9 221.3,99.5 221.6,98.0 221.8,95.8 222.1,95.3 222.4,97.5 222.6,95.8 222.9,94.9 223.2,95.0 223.5,97.3 223.7,95.8 224.0,94.6 224.3,94.8 224.6,94.5 224.9,97.6 225.2,95.8 225.5,95.2 225.8,93.2 226.1,93.3 226.4,94.7 226.7,94.7 227.0,93.2 227.3,92.4 227.6,94.6 227.9,92.2 228.2,91.8 228.5,91.2 228.9,92.6 229.2,94.0 229.5,93.0 229.8,93.9 230.1,91.3 230.5,91.8 230.8,89.2 231.1,90.1 231.5,90.0 231.8,90.4 232.1,92.5 232.5,90.7 232.8,91.9 233.2,91.5 233.5,93.4 233.9,90.5 234.2,90.4 234.6,91.3 234.9,89.7 235.3,91.8 235.6,93.2 236.0,91.4 236.3,92.1 236.7,89.9 237.0,92.6 237.4,90.8 237.7,91.5 238.1,89.8 238.4,91.3 238.8,90.6 239.1,92.7 239.4,92.8 239.8,91.7 240.1,90.1 240.5,90.2 240.8,90.9 241.1,91.6 241.5,92.2 241.8,92.5 242.1,92.4 242.4,91.6 242.8,92.7 243.1,92.2 243.4,94.1 243.7,93.7 244.0,93.9 244.3,91.4 244.6,91.1 244.9,93.8 245.2,93.8 245.5,93.8 245.8,97.6 246.1,93.6 246.4,97.0 246.7,96.3 247.0,92.9 247.3,96.8 247.6,96.6 247.9,95.1 248.2,97.1 248.5,98.1 248.8,94.5 249.1,95.4 249.4,94.4 249.7,97.0 250.0,93.6 250.3,93.2 250.6,93.8 250.9,97.4 251.2,95.4 251.5,99.0 251.8,95.6 252.1,97.6 252.4,96.7 252.7,96.9 253.0,96.7 253.3,98.1 253.6,96.5 253.9,97.2 254.2,99.5 254.5,98.5 254.8,96.3 255.1,98.0 255.4,100.1 255.7,99.5 256.0,98.8 256.3,98.7 256.6,99.6 256.9,100.6 257.2,99.9 257.6,98.8 257.9,98.3 258.2,98.9 258.5,101.7 258.8,98.7 259.2,99.1 259.5,99.7 259.8,102.2 260.2,100.5 260.5,102.2 260.8,102.2 261.2,102.4 261.5,102.2 261.8,103.7 262.2,101.8 262.5,101.6 262.9,104.7 263.2,102.6 263.5,102.4 263.9,102.1 264.2,106.3 264.6,104.9 264.9,104.3 265.3,101.6 265.7,104.4 266.0,100.7 266.4,103.2 266.7,103.5 267.1,101.6 267.4,100.3 267.8,103.7 268.1,99.6 268.5,100.7 268.8,102.5 269.1,102.9 269.5,101.2 269.8,101.8 270.2,102.6 270.5,105.3 270.8,105.5 271.2,101.2 271.5,104.4 271.9,102.0 272.2,101.2 272.6,102.0 272.9,100.3 273.2,103.3 273.6,103.0 273.9,100.6 274.2,99.2 274.6,102.1 274.9,103.2 275.3,99.4 275.6,103.5 275.9,101.6 276.3,99.8 276.6,101.9 277.0,101.6 277.3,99.5 277.6,100.5 278.0,98.8 278.3,100.4 278.6,98.3 279.0,98.7 279.3,100.4 279.7,100.0 280.0,99.3 280.3,100.2 280.7,99.5 281.0,98.6 281.4,99.2 281.7,96.8 282.1,96.7 282.4,97.6 282.7,99.8 283.1,100.6 283.4,96.7 283.8,100.3 284.1,99.5 284.5,96.3 284.8,98.1 285.1,97.2 285.5,100.0 285.8,98.5 286.2,98.8 286.5,99.4 286.9,97.7 287.2,99.9 287.5,99.3 287.9,97.2 288.2,100.4 288.6,100.4 288.9,102.4 289.3,102.1 289.6,97.2 290.0,100.2 290.3,99.0 290.7,97.8 291.0,95.4 291.3,99.2 291.7,98.4 292.0,98.7 292.4,100.8 292.7,96.4 293.1,97.6 293.4,95.6 293.8,96.7 294.1,99.9 294.5,96.4 294.8,98.3 295.2,98.5 295.5,97.4 295.8,99.4 296.2,96.8 296.5,95.8 296.9,95.8 297.2,94.6 297.6,94.0 297.9,93.2 298.3,92.8 298.6,92.5 299.0,94.7 299.3,94.3 299.7,98.8 300.0,97.9 300.4,99.6 300.7,98.1 301.1,98.4 301.4,98.2 301.8,95.8 302.1,95.7 302.5,95.5 302.8,100.6 303.2,96.1 303.5,99.2 303.9,97.2 304.2,97.2 304.6,92.9 304.9,97.3 305.3,92.8 305.6,97.2 306.0,94.0 306.3,99.7 306.7,95.9 307.0,95.6 307.4,96.2 307.7,93.9 308.1,93.1 308.4,94.8 308.8,93.6 309.1,96.7 309.5,98.0 309.8,97.1 310.2,97.9 310.5,96.6 310.9,97.5 311.2,97.8 311.6,99.0 311.9,96.5 312.3,98.8 312.6,95.7 313.0,96.7 313.3,97.3 313.7,94.1 314.0,98.0 314.4,98.1 314.7,94.5 315.1,97.6 315.4,96.5 315.8,95.6 316.1,95.2 316.5,94.3 316.8,97.9 317.2,97.1 317.5,97.2 317.9,94.7 318.2,98.2 318.6,95.9 318.9,97.2 319.3,94.6 319.6,99.4 320.0,96.9 320.3,99.3 320.7,96.8 321.0,97.6 321.3,99.8 321.7,98.7 322.0,97.4 322.4,95.8 322.7,96.9 323.1,98.2 323.4,97.6 323.8,97.8 324.1,96.6 324.5,97.2 324.8,100.2 325.2,96.6 325.5,97.6 325.9,95.6 326.2,96.7 326.5,95.9 326.9,99.6 327.2,100.0 327.6,97.3 327.9,99.6 328.3,99.7 328.6,100.1 328.9,99.7 329.3,97.4 329.6,100.0 330.0,98.3 330.3,98.9 330.7,96.1 331.0,95.3 331.3,100.0 331.7,97.8 332.0,98.2 332.4,99.2 332.7,95.6 333.1,98.3 333.4,98.1 333.7,93.9 334.1,98.5 334.4,97.3 334.8,97.9 335.1,97.4 335.5,96.9 335.8,98.6 336.2,99.4 336.5,102.6 336.8,101.0 337.2,102.1 337.5,97.3 337.9,100.5 338.2,99.9 338.6,98.8 338.9,100.2 339.3,97.1 339.6,100.0 340.0,97.3 340.3,98.9 340.7,100.3 341.0,98.5 341.3,103.2 341.7,98.7 342.0,102.8 342.4,103.1 342.7,102.1 343.1,99.7 343.4,101.1 343.8,99.8 344.1,101.6 344.5,100.7 344.8,98.2 345.2,101.1 345.5,98.8 345.9,101.1 346.2,98.7 346.6,100.6 346.9,102.4 347.3,98.4 347.6,100.4 348.0,98.9 348.3,99.8 348.7,99.6 349.0,97.2 349.4,98.9 349.7,101.7 350.1,101.4 350.4,100.3 350.8,101.8 351.1,99.2 351.5,99.4 351.8,100.5 352.2,98.9 352.5,100.8 352.9,98.3 353.2,101.7 353.6,101.9 353.9,101.7 354.3,101.1 354.6,100.3 355.0,101.8 355.3,97.8 355.7,97.5 356.0,99.4 356.4,103.2 356.7,100.8 357.1,101.6 357.4,99.6 357.8,100.8 358.1,101.5 358.5,100.4 358.8,98.0 359.2,100.1 359.5,100.8 359.9,99.3 360.2,98.6 360.6,102.1 360.9,98.1 361.3,99.9 361.6,101.9 362.0,103.1 362.3,100.4 362.7,99.1 363.0,103.5 363.4,102.0 363.7,102.2 364.1,101.4 364.4,101.2 364.8,97.4 365.1,97.1 365.5,100.6 365.8,96.7 366.2,98.0 366.5,99.2 366.9,98.9 367.2,97.1 367.6,100.4 367.9,99.9 368.3,99.1 368.6,100.1 369.0,100.6 369.3,97.5 369.7,99.1 370.0,97.9 370.4,99.6 370.7,97.9 371.1,99.4 371.4,99.5 371.7,97.5 372.1,97.6 372.4,99.0 372.8,99.1 373.1,100.7 373.5,99.1 373.8,98.7 374.2,100.8 374.5,100.6 374.9,97.9 375.2,97.6 375.6,100.9 375.9,98.5 376.3,101.7 376.6,98.5 377.0,98.0 377.3,98.2 377.7,99.0 378.0,97.9 378.4,96.8 378.7,95.9 379.1,95.5 379.4,99.8 379.8,98.9 380.1,98.5 380.5,97.6 380.8,97.6 381.2,97.4 381.5,99.0 381.9,98.0 382.2,101.0 382.6,98.0 382.9,99.8 383.3,101.3 383.6,99.8 384.0,100.4 384.3,100.0 384.7,97.6 385.0,97.4 385.4,95.0 385.7,96.9 386.1,100.6 386.4,96.6 386.8,101.9 387.1,101.8 387.5,101.3 387.8,98.0 388.2,101.7 388.5,102.3 388.9,98.6 389.2,97.4 389.6,97.4 389.9,97.9 390.3,97.8 390.6,96.7 391.0,97.5 391.3,98.5 391.7,100.7 392.0,102.1 392.4,96.6 392.7,101.3 393.1,101.1 393.4,101.3 393.8,98.8 394.1,98.3 394.5,97.5 394.8,97.7 395.2,97.0 395.5,96.5 395.9,96.9 396.2,95.3 396.6,96.5 396.9,98.9 397.3,97.5 397.6,101.5 398.0,100.4 398.3,97.4 398.7,100.2 399.0,101.9 399.4,101.5 399.7,99.4 400.1,100.6 400.4,99.9 400.8,99.2 401.1,95.4 401.5,95.3 401.8,97.0 402.2,96.0 402.5,101.3 402.9,100.3 403.2,99.7 403.6,99.9 403.9,102.0 404.3,96.5 404.6,100.9 405.0,97.1 405.3,98.3 405.7,98.3 406.0,97.9 406.4,98.5 406.7,99.6 407.1,98.4 407.4,98.0 407.8,96.9 408.1,98.6 408.5,99.6 408.8,97.0 409.2,96.7 409.5,100.9 409.9,95.8 410.2,95.9 410.6,97.4 410.9,99.3 411.3,99.3 411.6,98.9 412.0,98.6 412.3,98.8 412.7,97.3 413.0,101.3 413.4,102.2 413.7,103.0 414.1,99.2 414.4,99.9 414.8,98.4 415.1,100.6 415.5,100.2 415.8,97.2 416.2,97.4 416.5,101.3 416.9,99.5 417.2,97.3 417.6,98.3 417.9,98.8 418.3,100.5 418.6,101.4 419.0,101.6 419.3,98.1 419.7,97.4 420.0,99.8 420.4,99.3 420.7,95.4 421.1,97.6 421.4,99.2 421.8,98.8 422.1,99.5 422.5,98.3 422.8,98.3 423.2,99.7 423.5,100.0 423.9,97.1 424.2,99.4 424.6,96.9 424.9,100.6 425.3,96.7 425.6,99.7 426.0,100.4 426.3,100.1 426.7,99.7 427.0,101.2 427.4,96.8 427.7,98.7 428.0,102.1 428.4,99.8 428.7,98.4 429.1,97.3 429.4,97.1 429.8,95.2 430.1,99.6 430.5,96.5 430.8,101.1 431.2,97.2 431.5,96.9 431.9,97.6 432.2,94.8 432.6,95.0 432.9,100.8 433.3,101.4 433.6,100.6 434.0,100.2 434.3,96.4 434.7,95.1 435.0,95.8 435.4,97.2 435.7,98.8 436.1,97.2 436.4,97.1 436.8,96.2 437.1,97.3 437.5,99.4 437.8,98.3 438.2,98.8 438.5,99.5 438.9,97.3 439.2,100.9 439.6,98.5 439.9,100.7 440.3,98.0 440.6,98.7 441.0,101.0 441.3,97.8 441.7,99.9 442.0,100.5 442.4,97.9 442.7,98.9 443.1,98.7 443.4,97.2 443.8,98.0 444.1,97.8 444.5,100.6 444.8,101.6 445.2,96.3 445.5,100.0 445.9,100.4 446.2,98.7 446.6,102.0 446.9,99.3 447.3,96.9 447.6,96.2 448.0,99.1 448.3,100.8 448.7,98.6 449.0,100.9 449.4,96.9 449.7,96.8 450.1,100.3 450.4,97.4 450.8,99.7 451.1,99.8 451.5,99.4 451.8,101.6 452.2,101.4 452.5,103.0 452.9,102.4 453.2,101.4 453.6,99.5 453.9,101.1 454.3,99.2 454.6,102.7 455.0,100.7 455.3,97.6 455.7,100.7 456.0,100.3 456.4,101.3 456.7,101.5 457.1,98.8 457.4,97.2 457.8,97.5 458.1,97.2 458.5,97.9 458.8,100.7 459.2,96.3 459.5,98.3 459.9,99.7 460.2,97.5 460.6,100.2 460.9,100.8 461.3,100.2 461.6,97.3 462.0,100.5 462.3,97.5 462.7,96.7 463.0,100.7 463.4,100.1 463.7,100.4 464.1,96.2 464.4,97.5 464.8,97.1 465.1,97.9 465.5,96.8 465.8,99.0 466.2,100.5 466.5,102.0 466.9,101.8 467.2,100.6 467.6,100.4 467.9,100.4 468.3,102.1 468.6,102.6 469.0,100.3 469.3,101.0 469.7,97.6 470.0,96.4 470.4,100.4 470.7,97.2 471.1,100.9 471.4,101.1 471.8,96.3 472.1,96.0 472.5,96.8 472.8,95.5 473.2,95.0 473.5,98.4 473.9,97.1 474.2,99.4 474.6,97.3 474.9,99.7 475.3,100.5 475.6,96.5 476.0,100.5 476.3,98.8 476.7,98.7 477.0,99.3 477.4,97.8 477.7,97.4 478.1,100.3 478.4,97.9 478.8,99.8 479.1,95.4 479.5,98.7 479.8,99.1 480.2,99.5 480.5,99.3 480.9,97.5 481.2,101.4 481.6,97.9 481.9,97.7 482.3,100.3 482.6,100.2 483.0,97.1 483.3,95.4 483.7,99.0 484.0,101.4 484.4,102.4 484.7,98.8 485.1,101.9 485.4,101.6 485.8,101.9 486.1,100.8 486.5,99.1 486.8,97.2 487.2,96.6 487.5,98.1 487.9,95.8 488.2,97.5 488.6,95.6 488.9,97.4 489.3,96.6 489.6,97.3 490.0,97.1 490.3,96.8 490.7,97.2 491.0,96.7 491.4,100.2 491.7,98.0 492.1,95.0 492.4,95.9 492.8,99.7 493.1,98.9 493.5,97.5 493.8,96.0 494.2,98.0 494.5,97.8 494.9,97.6 495.2,101.3 495.6,100.5 495.9,100.2 496.3,99.4 496.6,101.2 497.0,101.7 497.3,100.4 497.7,99.3 498.0,98.4 498.4,99.7 498.7,97.9 499.1,98.3 499.4,102.2 499.8,98.9 500.1,100.0 500.5,103.1 500.8,101.9 501.2,101.2 501.5,98.1 501.9,97.9 502.2,97.6 502.6,97.9 502.9,98.1 503.3,97.9 503.6,97.9 504.0,102.7 504.3,102.9 504.7,101.4 505.0,101.8 505.4,99.4 505.7,99.8 506.1,99.3 506.4,100.7 506.8,97.7 507.1,97.3 507.5,95.8 507.8,98.3 508.2,100.7 508.5,99.8 508.9,97.7 509.2,98.4 509.6,100.2 509.9,99.6 510.3,98.4 510.6,96.7 511.0,97.9 511.3,99.1 511.7,101.4 512.0,101.6 512.4,101.5 512.7,101.0 513.1,97.6 513.4,101.1 513.8,97.7 514.1,98.3 514.5,98.1 514.8,98.3 515.2,98.8 515.5,100.4 515.9,98.0 516.2,98.7 516.6,101.3 516.9,100.5 517.3,103.0 517.6,97.4 518.0,97.1 518.3,99.0 518.7,96.9 519.0,100.0 519.4,98.4 519.7,98.8 520.1,99.5 520.4,100.1 520.8,99.1 521.1,97.8 521.5,99.7 521.8,96.4 522.2,97.5 522.5,99.2 522.9,98.1 523.2,100.2 523.6,100.4 523.9,100.4 524.3,99.5 524.6,97.9 525.0,98.7 525.3,100.1 525.7,101.4 526.0,101.3 526.4,100.8 526.7,101.7 527.1,98.5 527.4,100.3 527.8,102.5 528.1,100.4 528.5,99.6 528.8,100.5 529.2,97.7 529.5,96.3 529.9,99.8 530.2,98.4 530.6,98.2 530.9,96.5 531.3,97.2 531.6,100.5 532.0,101.8 532.3,97.2 532.7,99.8 533.0,97.4 533.4,98.7 533.7,95.9 534.1,99.9 534.4,97.0 534.8,98.7 535.1,97.7 535.5,99.4 535.8,99.5 536.2,97.8 536.5,96.3 536.9,96.5 537.2,98.1 537.6,101.0 537.9,99.6 538.3,99.1 538.6,96.5 539.0,97.8 539.3,98.8 539.7,99.6 540.0,99.7 540.4,97.5 540.7,99.2"/>
<polyline stroke="#1cb76c" stroke-width="2.7" points="77.5,274.5 77.5,273.3 77.6,273.5 77.6,274.1 77.6,272.4 77.7,272.8 77.7,272.3 77.8,273.1 77.8,272.3 77.8,271.1 77.9,271.8 77.9,271.7 77.9,270.9 78.0,269.3 78.0,270.0 78.1,269.0 78.1,268.3 78.1,267.6 78.2,268.2 78.2,267.1 78.3,266.8 78.3,267.3 78.3,267.0 78.4,266.5 78.4,266.0 78.4,266.3 78.5,266.1 78.5,264.2 78.6,264.8 78.6,264.4 78.6,263.7 78.7,263.2 78.7,263.6 78.7,262.2 78.8,263.4 78.8,262.5 78.9,262.2 78.9,262.0 78.9,261.4 79.0,260.9 79.0,260.6 79.1,260.3 79.1,259.5 79.1,260.5 79.2,260.2 79.2,259.3 79.3,258.3 79.3,258.2 79.3,258.5 79.4,257.5 79.4,256.8 79.5,256.9 79.5,255.4 79.6,255.2 79.6,255.7 79.6,256.6 79.7,256.6 79.7,254.5 79.8,254.7 79.8,252.8 79.9,253.3 79.9,252.4 80.0,252.5 80.1,253.5 80.1,251.9 80.2,252.1 80.2,251.3 80.3,251.9 80.3,251.1 80.4,249.9 80.5,250.7 80.5,249.7 80.6,248.6 80.6,248.5 80.7,249.1 80.8,249.0 80.8,247.1 80.9,247.6 80.9,246.7 81.0,247.3 81.1,245.9 81.1,246.9 81.2,246.2 81.3,246.0 81.3,245.4 81.4,245.3 81.5,245.3 81.5,243.8 81.6,244.1 81.6,243.7 81.7,243.5 81.8,243.1 81.8,242.0 81.9,242.1 82.0,240.6 82.0,240.7 82.1,240.5 82.1,240.1 82.2,240.6 82.2,240.3 82.3,239.3 82.4,239.6 82.4,238.9 82.5,239.1 82.5,238.0 82.6,237.9 82.6,236.7 82.7,237.2 82.7,236.6 82.8,236.7 82.8,236.6 82.9,235.9 82.9,235.0 83.0,235.0 83.0,235.3 83.1,235.0 83.1,234.6 83.2,233.0 83.2,232.5 83.3,233.1 83.3,231.9 83.4,232.6 83.4,232.4 83.5,232.8 83.5,231.1 83.5,231.8 83.6,230.7 83.6,230.9 83.7,229.8 83.7,230.3 83.8,230.3 83.8,229.8 83.9,229.6 83.9,229.0 84.0,228.4 84.0,228.1 84.1,226.6 84.1,227.0 84.2,225.7 84.2,225.9 84.3,225.6 84.3,224.7 84.4,224.5 84.4,225.1 84.5,224.7 84.5,224.2 84.6,224.3 84.6,223.5 84.7,223.4 84.7,223.0 84.8,223.3 84.8,221.8 84.9,222.7 84.9,220.9 85.0,220.9 85.0,221.5 85.1,219.7 85.1,219.6 85.2,218.9 85.3,219.7 85.3,218.3 85.4,218.3 85.4,217.8 85.5,217.2 85.5,217.5 85.6,216.8 85.6,217.5 85.7,216.3 85.8,216.5 85.8,215.0 85.9,216.1 85.9,215.3 86.0,214.5 86.0,214.6 86.1,213.3 86.1,213.3 86.2,214.2 86.3,213.7 86.3,214.3 86.4,213.5 86.4,213.3 86.5,212.5 86.5,210.6 86.6,211.5 86.7,211.0 86.7,209.7 86.8,209.4 86.8,209.4 86.9,210.0 86.9,209.0 87.0,208.9 87.1,208.3 87.1,208.0 87.2,207.2 87.2,206.2 87.3,207.5 87.4,206.6 87.4,205.3 87.5,205.3 87.5,206.3 87.6,206.0 87.6,205.0 87.7,204.4 87.8,204.3 87.8,203.9 87.9,203.7 87.9,203.3 88.0,201.9 88.0,202.8 88.1,201.4 88.2,201.1 88.2,202.0 88.3,201.4 88.3,201.5 88.4,200.0 88.5,200.1 88.5,199.0 88.6,199.9 88.6,198.6 88.7,199.6 88.7,198.0 88.8,198.4 88.9,197.8 88.9,198.5 89.0,197.0 89.0,197.1 89.1,197.2 89.1,195.5 89.2,195.9 89.2,196.3 89.3,194.9 89.4,194.3 89.4,194.6 89.5,194.6 89.5,194.3 89.6,193.2 89.6,192.3 89.7,191.6 89.7,191.9 89.8,191.2 89.8,191.7 89.9,191.5 89.9,191.1 90.0,189.8 90.1,190.7 90.1,189.8 90.2,189.4 90.2,189.6 90.3,189.7 90.4,188.5 90.4,188.7 90.5,187.5 90.5,186.9 90.6,187.5 90.7,185.6 90.7,185.8 90.8,186.0 90.9,185.6 91.0,185.2 91.0,185.9 91.1,184.9 91.2,184.9 91.3,184.3 91.3,183.1 91.4,182.6 91.5,183.3 91.6,181.5 91.7,182.6 91.8,181.3 91.9,182.4 92.0,182.0 92.1,181.6 92.2,181.7 92.3,179.8 92.4,180.0 92.5,179.8 92.6,179.6 92.7,178.7 92.8,178.1 92.9,179.3 93.0,178.7 93.1,177.1 93.2,177.5 93.3,175.9 93.4,175.9 93.5,176.8 93.6,175.0 93.6,175.4 93.7,175.1 93.8,174.8 93.9,174.5 93.9,172.6 94.0,173.4 94.1,172.9 94.1,172.4 94.2,171.7 94.3,172.5 94.4,171.4 94.4,171.7 94.5,170.8 94.6,170.8 94.6,171.5 94.7,169.9 94.8,170.8 94.8,169.1 94.9,170.5 95.0,169.7 95.0,169.0 95.1,169.7 95.2,169.0 95.3,168.7 95.3,167.5 95.4,167.0 95.5,166.2 95.6,166.8 95.7,166.6 95.7,165.9 95.8,164.9 95.9,165.7 96.0,164.3 96.1,164.5 96.2,162.9 96.2,163.0 96.3,162.5 96.4,163.0 96.5,161.9 96.6,162.2 96.7,160.9 96.8,160.5 96.9,160.2 97.0,159.7 97.1,160.0 97.2,159.6 97.3,160.1 97.4,158.9 97.6,158.1 97.7,159.1 97.8,158.8 98.0,157.8 98.1,156.7 98.3,157.3 98.4,156.5 98.6,156.6 98.7,156.3 98.9,155.3 99.1,155.7 99.3,155.5 99.5,155.0 99.7,154.7 99.9,155.5 100.1,155.3 100.3,155.4 100.5,154.4 100.8,153.2 101.0,153.0 101.3,152.4 101.6,152.3 101.9,153.5 102.1,152.0 102.4,152.7 102.7,152.2 103.1,152.9 103.4,152.9 103.7,152.3 104.1,152.4 104.4,151.0 104.8,151.0 105.1,150.8 105.5,151.0 105.8,150.5 106.1,148.2 106.5,152.0 106.8,151.9 107.2,151.1 107.5,151.5 107.8,152.1 108.2,151.5 108.5,152.1 108.7,153.1 109.0,153.0 109.3,153.0 109.5,152.9 109.8,154.1 110.0,153.5 110.3,153.9 110.5,154.4 110.7,153.9 110.9,155.6 111.2,154.8 111.4,155.9 111.6,156.1 111.9,155.2 112.1,155.0 112.3,156.0 112.6,156.7 112.8,155.9 113.0,157.6 113.3,156.8 113.5,157.4 113.7,156.9 114.0,157.0 114.2,157.9 114.4,158.7 114.7,158.0 114.9,160.1 115.1,160.0 115.3,160.2 115.6,160.2 115.8,159.6 116.0,161.3 116.3,161.4 116.5,160.2 116.8,160.9 117.0,161.0 117.2,161.7 117.4,162.1 117.7,163.4 117.9,163.0 118.1,163.8 118.3,163.8 118.5,162.7 118.8,164.1 119.0,164.0 119.2,163.4 119.4,164.5 119.6,165.3 119.8,164.6 120.0,166.5 120.3,166.9 120.5,167.1 120.7,165.3 120.9,166.2 121.1,165.9 121.3,166.0 121.5,167.1 121.7,167.1 122.0,167.9 122.2,168.6 122.4,168.4 122.6,169.4 122.8,169.5 123.0,169.8 123.2,167.8 123.4,169.2 123.6,171.1 123.8,171.6 124.1,170.8 124.3,172.0 124.6,172.2 124.8,171.9 125.1,170.6 125.5,172.1 125.8,170.8 126.1,172.2 126.4,172.5 126.8,173.3 127.1,172.6 127.5,173.2 127.8,173.0 128.2,172.3 128.5,172.9 128.9,173.4 129.2,173.1 129.6,171.7 129.9,171.1 130.2,172.7 130.5,172.1 130.9,170.9 131.2,171.8 131.5,170.9 131.7,171.7 132.0,171.9 132.3,170.7 132.6,171.6 132.8,169.8 133.1,170.0 133.3,170.0 133.6,169.7 133.8,169.1 134.1,169.6 134.3,167.9 134.5,167.5 134.7,168.7 135.0,167.9 135.2,167.9 135.4,167.3 135.6,167.5 135.7,167.8 135.9,166.0 136.1,166.1 136.3,165.3 136.4,165.6 136.6,164.9 136.8,164.7 136.9,164.4 137.1,164.1 137.2,164.3 137.4,162.9 137.5,163.0 137.6,161.7 137.8,162.0 137.9,160.8 138.0,161.4 138.2,160.3 138.3,161.7 138.5,160.8 138.6,159.3 138.7,160.4 138.9,159.6 139.0,157.6 139.1,158.7 139.2,159.1 139.4,157.1 139.5,157.3 139.6,157.4 139.8,158.2 139.9,158.0 140.0,156.4 140.1,155.8 140.3,155.1 140.4,155.2 140.5,154.9 140.7,155.2 140.8,156.3 140.9,155.3 141.1,154.6 141.2,154.3 141.3,154.5 141.5,154.7 141.6,153.2 141.7,153.5 141.9,152.9 142.0,152.4 142.1,151.9 142.3,151.6 142.4,151.1 142.5,149.9 142.7,150.8 142.8,149.3 142.9,150.4 143.1,148.7 143.2,149.3 143.4,148.6 143.5,147.8 143.6,148.3 143.8,148.7 143.9,147.5 144.1,147.2 144.2,147.0 144.3,145.4 144.5,145.7 144.6,146.7 144.8,144.9 144.9,145.0 145.1,146.4 145.2,146.1 145.4,144.6 145.5,143.6 145.6,144.6 145.8,144.5 145.9,142.8 146.0,143.0 146.2,141.7 146.3,142.9 146.4,140.9 146.6,142.8 146.7,141.1 146.8,140.8 146.9,140.5 147.0,139.6 147.1,139.2 147.2,138.7 147.3,139.2 147.4,139.7 147.5,139.3 147.6,137.5 147.7,138.3 147.8,138.4 147.9,136.4 148.0,136.7 148.1,136.3 148.2,136.3 148.3,134.8 148.3,135.3 148.4,135.0 148.5,135.4 148.6,134.8 148.7,134.9 148.8,133.5 148.9,133.5 149.0,132.0 149.1,132.9 149.2,133.1 149.3,132.3 149.4,131.9 149.5,131.0 149.6,131.8 149.7,131.0 149.8,131.2 149.9,129.1 150.0,130.3 150.2,129.3 150.3,128.7 150.4,128.6 150.5,128.9 150.6,127.1 150.7,126.8 150.8,128.3 151.0,127.6 151.1,127.7 151.2,126.2 151.3,125.5 151.5,125.7 151.6,126.1 151.7,124.3 151.8,124.2 152.0,123.1 152.1,122.3 152.2,123.1 152.3,122.2 152.5,122.8 152.6,122.2 152.7,122.1 152.9,121.7 153.0,122.1 153.2,122.6 153.3,121.8 153.4,121.4 153.6,121.1 153.7,121.3 153.9,119.7 154.0,119.3 154.2,119.6 154.3,117.4 154.5,118.1 154.6,117.4 154.8,118.2 154.9,116.6 155.1,117.5 155.2,118.8 155.4,116.6 155.5,117.7 155.7,117.4 155.9,115.6 156.0,115.0 156.2,116.2 156.4,114.3 156.6,113.8 156.7,115.5 156.9,113.7 157.1,113.9 157.3,113.0 157.5,113.1 157.6,114.6 157.8,113.2 158.0,112.9 158.2,112.0 158.4,110.9 158.6,112.1 158.8,112.2 158.9,109.6 159.1,110.1 159.3,109.8 159.5,110.1 159.7,109.9 159.9,110.1 160.1,109.4 160.3,109.3 160.5,108.1 160.7,109.1 161.0,109.0 161.2,107.7 161.4,106.6 161.6,106.1 161.8,107.5 162.0,107.7 162.3,105.5 162.5,106.1 162.7,105.2 163.0,105.4 163.2,104.4 163.4,103.5 163.7,104.3 164.0,102.3 164.2,102.4 164.5,103.7 164.8,104.5 165.1,105.2 165.4,104.6 165.7,104.1 166.0,104.7 166.3,104.7 166.6,104.1 166.9,103.8 167.3,102.3 167.6,102.1 168.0,101.8 168.3,101.5 168.7,101.5 169.0,99.0 169.4,102.2 169.7,102.5 170.0,103.2 170.4,102.4 170.7,101.2 171.1,101.8 171.4,101.9 171.8,101.5 172.1,103.4 172.4,102.2 172.8,102.7 173.1,104.4 173.4,104.0 173.7,104.3 174.0,103.2 174.3,104.3 174.6,103.3 174.9,103.9 175.1,104.2 175.4,105.1 175.7,103.4 176.0,105.9 176.2,103.8 176.5,105.9 176.7,104.7 177.0,104.9 177.3,107.5 177.5,106.8 177.8,108.4 178.0,107.4 178.3,107.2 178.5,107.7 178.8,108.7 179.0,109.9 179.3,108.5 179.5,108.8 179.8,107.8 180.0,109.2 180.3,109.0 180.5,109.2 180.8,109.9 181.0,110.5 181.3,109.1 181.5,109.5 181.7,110.6 182.0,112.0 182.2,111.7 182.5,110.9 182.7,113.7 183.0,112.1 183.2,113.7 183.5,114.1 183.7,111.5 183.9,113.2 184.2,113.2 184.4,113.4 184.7,114.0 184.9,113.6 185.1,116.3 185.4,113.1 185.6,115.6 185.8,114.8 186.0,115.3 186.3,113.4 186.5,116.5 186.7,116.8 187.0,117.1 187.2,116.1 187.4,116.3 187.6,116.2 187.9,118.3 188.1,118.3 188.3,116.1 188.6,116.2 188.8,117.0 189.1,116.9 189.3,117.8 189.6,119.0 189.8,119.9 190.1,118.5 190.3,119.8 190.6,119.1 190.8,120.4 191.1,120.0 191.4,120.1 191.6,120.8 191.9,120.3 192.2,120.1 192.5,120.5 192.7,122.7 193.0,121.5 193.3,122.4 193.6,124.3 193.9,122.6 194.2,121.9 194.5,124.2 194.8,124.9 195.1,124.0 195.4,124.2 195.7,125.9 196.0,126.2 196.3,124.6 196.6,125.8 196.9,126.1 197.2,123.4 197.6,126.7 197.9,124.0 198.2,125.0 198.5,127.0 198.9,127.3 199.2,124.9 199.6,125.5 199.9,126.6 200.3,127.2 200.6,126.9 201.0,125.9 201.3,128.1 201.7,126.4 202.0,126.7 202.3,128.6 202.6,126.2 202.9,125.2 203.2,125.6 203.5,126.6 203.8,125.5 204.1,122.9 204.3,123.2 204.6,125.1 204.9,124.4 205.1,122.6 205.4,121.5 205.6,122.3 205.8,119.7 206.1,121.1 206.3,121.8 206.5,121.9 206.7,119.9 207.0,118.8 207.2,120.2 207.4,120.6 207.6,120.4 207.8,118.7 208.0,118.8 208.2,119.2 208.4,117.8 208.6,118.3 208.8,116.6 209.0,118.2 209.2,117.4 209.4,119.1 209.6,118.6 209.8,115.2 210.0,116.1 210.2,115.2 210.4,115.9 210.6,115.2 210.8,113.5 211.0,113.5 211.2,113.0 211.4,115.0 211.6,114.0 211.8,113.2 212.0,111.7 212.2,114.6 212.3,111.6 212.5,115.4 212.7,115.1 212.9,111.8 213.1,111.1 213.3,112.7 213.5,112.4 213.7,111.3 213.9,111.6 214.1,111.4 214.3,108.6 214.5,110.8 214.7,109.2 214.9,112.1 215.0,110.8 215.2,109.3 215.4,107.6 215.6,108.5 215.8,105.6 216.0,107.9 216.2,105.7 216.4,106.1 216.6,105.4 216.8,106.1 217.0,103.8 217.1,104.4 217.3,104.6 217.5,105.9 217.7,103.9 217.9,105.7 218.1,103.4 218.3,104.5 218.4,105.2 218.6,105.3 218.8,102.6 219.0,104.7 219.2,103.6 219.4,101.2 219.6,101.2 219.8,100.8 220.0,100.9 220.2,100.7 220.4,101.0 220.6,100.9 220.9,99.8 221.1,101.9 221.3,100.9 221.6,101.8 221.8,100.6 222.0,100.0 222.3,100.2 222.6,97.5 222.8,98.7 223.1,96.8 223.3,99.7 223.6,99.1 223.9,96.2 224.2,97.4 224.5,97.8 224.8,97.7 225.0,97.0 225.3,96.5 225.6,98.3 225.9,96.0 226.2,94.5 226.5,97.9 226.8,97.9 227.2,94.3 227.5,95.7 227.8,96.7 228.1,95.2 228.5,98.0 228.8,95.2 229.1,96.3 229.5,97.1 229.8,96.2 230.2,92.8 230.5,93.6 230.9,93.1 231.2,94.7 231.6,97.3 231.9,92.6 232.2,93.5 232.6,93.2 233.0,93.7 233.3,93.3 233.7,95.2 234.0,93.3 234.4,95.8 234.7,94.5 235.1,95.2 235.4,95.7 235.8,94.6 236.1,94.9 236.5,97.5 236.8,95.7 237.1,95.8 237.5,96.0 237.8,94.0 238.1,96.7 238.5,92.9 238.8,96.8 239.1,95.4 239.4,93.9 239.7,97.0 240.1,97.7 240.4,96.2 240.7,97.3 241.0,94.5 241.3,96.7 241.6,99.1 241.9,94.5 242.2,96.3 242.5,98.0 242.8,95.9 243.0,94.9 243.3,97.0 243.6,99.6 243.9,99.1 244.1,99.8 244.4,95.5 244.7,97.2 244.9,101.8 245.2,103.1 245.5,101.8 245.7,99.2 246.0,101.6 246.3,102.8 246.6,100.1 246.8,103.3 247.1,99.3 247.4,103.5 247.6,100.0 247.9,103.7 248.2,101.1 248.5,102.0 248.7,98.6 249.0,102.1 249.3,99.4 249.5,101.4 249.8,102.3 250.1,104.2 250.4,102.8 250.6,101.6 250.9,104.6 251.2,101.7 251.5,102.3 251.7,104.7 252.0,105.1 252.3,103.5 252.6,104.2 252.9,107.2 253.2,106.3 253.5,104.3 253.8,106.8 254.0,104.0 254.3,107.9 254.6,105.0 254.9,109.7 255.2,108.5 255.5,108.0 255.8,107.6 256.1,106.6 256.4,107.4 256.7,108.6 257.1,107.7 257.4,107.6 257.7,107.0 258.0,111.3 258.3,108.2 258.6,107.7 259.0,109.7 259.3,108.5 259.6,107.7 260.0,108.0 260.3,111.9 260.6,110.0 261.0,108.0 261.3,109.3 261.6,112.8 262.0,108.5 262.3,111.4 262.7,108.9 263.0,113.5 263.3,111.1 263.7,112.3 264.0,112.0 264.4,109.9 264.7,107.1 265.1,108.6 265.5,109.6 265.8,111.8 266.2,109.3 266.5,109.2 266.9,109.6 267.2,111.0 267.6,111.7 267.9,112.0 268.2,109.2 268.6,110.6 268.9,111.6 269.3,110.0 269.6,112.2 269.9,109.4 270.3,109.1 270.6,108.6 270.9,106.3 271.2,105.8 271.6,109.2 271.9,105.3 272.2,108.1 272.5,111.1 272.9,108.0 273.2,110.2 273.5,108.3 273.8,107.9 274.1,109.6 274.4,110.2 274.7,107.2 275.0,110.2 275.3,108.4 275.6,106.8 275.9,108.7 276.2,109.7 276.5,107.7 276.8,108.8 277.1,108.7 277.4,107.1 277.7,108.0 278.0,105.7 278.3,108.5 278.6,106.3 278.8,101.7 279.1,106.4 279.4,106.0 279.7,105.9 280.0,103.5 280.3,101.2 280.6,104.9 280.9,103.0 281.2,102.2 281.5,99.8 281.8,103.4 282.1,99.6 282.4,99.3 282.7,102.3 283.0,105.6 283.3,104.8 283.6,104.9 283.9,104.1 284.2,103.1 284.5,102.2 284.8,101.5 285.1,99.9 285.4,100.0 285.7,99.4 286.0,98.4 286.3,101.0 286.6,97.0 286.9,102.0 287.2,97.4 287.5,99.9 287.8,100.3 288.1,102.1 288.5,101.5 288.8,99.2 289.1,102.2 289.4,101.6 289.7,98.1 290.1,98.5 290.4,100.6 290.7,98.5 291.0,100.5 291.4,95.4 291.7,95.6 292.0,100.0 292.3,96.9 292.7,96.8 293.0,96.1 293.3,94.7 293.7,95.3 294.0,98.7 294.3,99.2 294.7,94.3 295.0,97.0 295.4,96.7 295.7,94.3 296.0,94.9 296.4,94.6 296.7,93.2 297.1,96.3 297.4,96.2 297.8,95.5 298.1,98.6 298.5,99.5 298.8,95.5 299.1,96.9 299.5,93.6 299.8,94.3 300.2,93.4 300.5,94.7 300.9,97.8 301.2,97.8 301.6,94.3 301.9,92.0 302.3,95.3 302.6,93.1 303.0,94.7 303.3,93.4 303.7,91.8 304.0,92.1 304.4,92.8 304.7,95.9 305.1,93.1 305.4,97.7 305.8,96.9 306.1,98.3 306.5,96.1 306.8,95.6 307.2,92.2 307.5,95.1 307.9,96.2 308.2,91.7 308.6,94.8 308.9,97.3 309.2,97.8 309.6,97.8 309.9,96.6 310.3,96.5 310.6,96.2 310.9,94.5 311.3,97.2 311.6,94.6 312.0,97.3 312.3,98.6 312.6,93.4 313.0,95.6 313.3,97.9 313.6,97.8 313.9,99.1 314.2,100.8 314.6,95.9 314.9,97.5 315.2,94.5 315.5,97.3 315.7,97.8 316.0,95.7 316.3,98.0 316.6,101.1 316.9,99.0 317.1,98.3 317.4,98.6 317.7,101.3 318.0,97.8 318.2,101.4 318.5,98.6 318.8,103.2 319.1,100.6 319.4,99.6 319.7,100.1 320.0,101.7 320.3,102.8 320.6,102.3 320.9,104.7 321.2,101.3 321.6,101.8 321.9,104.3 322.2,101.0 322.6,100.9 322.9,103.4 323.3,104.8 323.6,103.9 323.9,99.5 324.3,105.4 324.6,104.2 325.0,102.8 325.3,102.7 325.6,100.9 326.0,100.8 326.3,103.7 326.7,100.3 327.0,105.0 327.4,103.2 327.7,104.0 328.1,104.4 328.4,106.1 328.8,100.6 329.1,104.0 329.5,101.4 329.8,102.0 330.2,107.9 330.5,102.2 330.9,102.2 331.2,106.2 331.6,103.7 331.9,99.4 332.3,105.1 332.6,102.8 333.0,106.0 333.3,100.7 333.7,105.1 334.0,102.1 334.4,102.9 334.7,103.7 335.1,103.9 335.4,103.4 335.8,102.6 336.1,102.0 336.5,101.9 336.8,103.5 337.2,102.9 337.5,101.8 337.9,102.5 338.2,105.4 338.6,104.1 338.9,102.7 339.3,106.7 339.6,102.3 339.9,105.8 340.3,102.6 340.6,100.9 341.0,103.4 341.3,102.0 341.6,100.2 342.0,100.0 342.3,100.9 342.7,105.3 343.0,103.0 343.3,105.7 343.7,103.6 344.0,102.8 344.3,106.6 344.7,106.6 345.0,101.4 345.4,104.0 345.7,100.1 346.0,99.2 346.4,102.2 346.7,102.1 347.0,102.4 347.4,103.8 347.7,97.8 348.0,102.9 348.4,99.5 348.7,102.3 349.0,102.5 349.4,101.2 349.7,101.5 350.0,103.9 350.4,103.5 350.7,99.0 351.1,97.9 351.4,99.6 351.7,99.3 352.1,96.8 352.4,101.3 352.7,102.0 353.1,99.3 353.4,97.9 353.8,96.1 354.1,94.9 354.4,97.0 354.8,93.3 355.1,97.9 355.5,95.2 355.8,101.4 356.1,98.6 356.5,99.4 356.8,100.6 357.2,101.0 357.5,95.4 357.9,95.8 358.2,99.9 358.5,95.5 358.9,96.7 359.2,97.9 359.6,99.9 359.9,99.0 360.3,98.4 360.6,95.5 361.0,99.0 361.3,97.4 361.7,99.7 362.0,97.1 362.3,98.3 362.7,94.8 363.0,97.0 363.4,95.2 363.7,93.9 364.1,99.3 364.4,98.8 364.8,94.1 365.1,96.7 365.5,99.1 365.8,96.7 366.2,98.6 366.5,102.6 366.9,98.8 367.2,98.4 367.6,99.0 367.9,97.2 368.3,97.7 368.6,96.0 369.0,99.7 369.3,99.8 369.7,97.8 370.0,100.4 370.4,101.0 370.7,99.7 371.1,93.1 371.4,94.8 371.8,95.6 372.1,94.6 372.5,96.0 372.8,97.2 373.2,97.8 373.5,98.8 373.9,99.8 374.2,99.8 374.6,99.1 374.9,98.0 375.3,94.7 375.6,96.7 376.0,94.2 376.3,94.6 376.6,96.9 377.0,98.0 377.3,97.0 377.7,96.4 378.0,98.3 378.4,98.0 378.7,96.3 379.1,96.8 379.4,98.7 379.8,98.8 380.1,98.7 380.5,101.6 380.8,100.5 381.1,96.7 381.5,94.7 381.8,96.7 382.2,97.6 382.5,96.5 382.9,98.5 383.2,97.9 383.6,97.8 383.9,96.8 384.3,98.3 384.6,99.8 385.0,101.5 385.3,99.1 385.7,96.3 386.0,97.9 386.4,100.3 386.7,99.5 387.1,97.2 387.4,99.3 387.8,101.8 388.1,98.4 388.4,101.8 388.8,99.7 389.1,98.8 389.5,102.7 389.8,98.9 390.2,98.0 390.5,101.3 390.9,96.8 391.2,96.3 391.6,96.0 391.9,100.9 392.3,101.0 392.6,97.8 393.0,99.1 393.3,98.7 393.7,99.8 394.0,94.3 394.4,96.0 394.7,93.7 395.1,94.5 395.4,96.9 395.8,97.1 396.1,95.5 396.5,95.6 396.8,102.2 397.2,98.9 397.5,103.9 397.9,103.5 398.2,101.6 398.6,98.3 398.9,98.8 399.3,98.5 399.6,102.7 400.0,104.1 400.3,102.2 400.7,100.4 401.0,98.2 401.4,98.0 401.7,96.3 402.1,98.9 402.4,96.8 402.8,101.0 403.1,98.0 403.5,102.7 403.8,99.4 404.2,102.0 404.5,100.9 404.9,98.8 405.2,102.0 405.6,101.5 405.9,102.6 406.3,100.0 406.6,98.3 407.0,97.5 407.3,100.5 407.7,97.5 408.0,102.6 408.4,96.5 408.7,101.1 409.1,100.8 409.4,98.1 409.8,100.5 410.1,93.8 410.5,97.4 410.8,98.1 411.2,98.0 411.5,98.9 411.9,97.9 412.2,99.6 412.6,103.5 412.9,104.8 413.3,98.7 413.6,99.7 414.0,100.5 414.3,99.6 414.7,97.7 415.0,101.6 415.4,99.3 415.7,103.5 416.1,102.4 416.4,98.4 416.8,100.1 417.1,99.0 417.5,98.2 417.8,99.8 418.2,97.4 418.5,97.4 418.9,99.8 419.2,97.7 419.6,96.5 419.9,98.9 420.3,96.1 420.6,97.5 421.0,98.7 421.3,102.2 421.7,100.6 422.0,100.3 422.4,101.1 422.7,99.5 423.0,102.1 423.4,97.6 423.7,102.9 424.1,97.8 424.4,99.7 424.8,103.9 425.1,97.6 425.5,95.6 425.8,98.0 426.2,96.0 426.5,95.8 426.9,96.4 427.2,98.4 427.6,97.6 427.9,100.8 428.3,94.8 428.6,98.6 429.0,96.7 429.3,96.3 429.7,96.7 430.0,101.9 430.4,97.1 430.7,96.7 431.1,97.6 431.4,100.9 431.8,97.5 432.1,96.2 432.5,98.9 432.8,98.7 433.2,99.3 433.5,96.8 433.9,99.2 434.2,101.3 434.6,99.7 434.9,98.6 435.3,102.3 435.6,99.8 436.0,99.2 436.3,96.7 436.7,100.4 437.0,99.3 437.4,99.9 437.7,100.5 438.1,96.0 438.4,95.3 438.8,95.5 439.1,94.7 439.5,96.8 439.8,97.9 440.2,99.7 440.5,95.6 440.9,99.6 441.2,96.5 441.6,97.2 441.9,99.1 442.3,97.7 442.6,95.5 443.0,98.3 443.3,96.1 443.7,95.4 444.0,101.1 444.4,97.7 444.7,99.1 445.1,98.1 445.4,100.1 445.8,97.8 446.1,100.3 446.5,96.0 446.8,100.0 447.2,97.1 447.5,96.4 447.9,96.9 448.2,100.4 448.6,100.4 448.9,102.4 449.3,99.0 449.6,102.7 450.0,100.4 450.3,100.5 450.7,96.1 451.0,96.1 451.4,100.3 451.7,102.5 452.1,99.4 452.4,99.4 452.8,99.1 453.1,103.1 453.5,99.7 453.8,100.4 454.2,98.5 454.5,95.2 454.9,97.5 455.2,97.9 455.6,98.5 455.9,102.1 456.3,101.0 456.6,98.8 457.0,99.7 457.3,99.8 457.7,100.6 458.0,100.1 458.4,99.5 458.7,97.0 459.1,96.7 459.4,99.3 459.8,95.2 460.1,95.9 460.5,97.2 460.8,99.6 461.2,101.9 461.5,98.3 461.9,96.2 462.2,96.4 462.6,95.1 462.9,95.7 463.3,99.1 463.6,95.0 464.0,95.5 464.3,98.4 464.7,95.6 465.0,98.9 465.4,100.9 465.7,100.7 466.1,94.7 466.4,99.0 466.8,98.8 467.1,97.4 467.5,96.4 467.8,97.6 468.2,96.7 468.5,95.1 468.9,99.9 469.2,99.9 469.6,100.4 469.9,94.6 470.3,97.8 470.6,99.6 471.0,97.3 471.3,101.2 471.7,97.0 472.0,97.4 472.4,100.8 472.7,96.8 473.1,96.4 473.4,97.8 473.8,96.7 474.1,97.1 474.5,94.8 474.8,97.6 475.2,99.7 475.5,98.3 475.9,97.0 476.2,98.2 476.6,99.6 476.9,95.4 477.3,99.5 477.6,96.9 478.0,98.0 478.3,97.6 478.7,99.4 479.0,98.3 479.4,96.5 479.7,94.5 480.1,99.6 480.4,99.8 480.8,97.8 481.1,98.3 481.5,96.1 481.8,99.1 482.2,97.3 482.5,99.2 482.9,101.8 483.2,102.0 483.6,95.8 483.9,96.8 484.3,98.4 484.6,97.2 485.0,99.2 485.3,97.0 485.7,100.3 486.0,102.5 486.4,96.8 486.7,97.5 487.1,99.8 487.4,98.0 487.8,96.2 488.1,97.8 488.5,101.7 488.8,99.6 489.2,99.4 489.5,98.4 489.9,96.6 490.2,96.0 490.6,99.3 490.9,96.0 491.3,95.5 491.6,101.8 492.0,98.3 492.3,98.3 492.7,100.4 493.0,98.6 493.4,99.4 493.7,102.6 494.1,102.9 494.4,101.8 494.8,98.4 495.1,96.2 495.5,101.7 495.8,99.2 496.2,99.4 496.5,100.5 496.9,99.9 497.2,100.2 497.6,97.1 497.9,99.6 498.3,97.8 498.6,97.8 499.0,101.1 499.3,95.9 499.7,96.0 500.0,100.0 500.4,95.6 500.7,100.3 501.1,99.7 501.4,96.3 501.8,97.7 502.1,99.9 502.5,101.0 502.8,99.0 503.2,102.0 503.5,101.7 503.9,97.6 504.2,101.3 504.6,102.0 504.9,99.9 505.3,101.4 505.6,101.2 506.0,97.9 506.3,103.2 506.7,98.5 507.0,99.0 507.4,103.5 507.7,102.3 508.1,99.4 508.4,101.9 508.8,99.6 509.1,98.4 509.5,98.5 509.8,98.0 510.2,100.7 510.5,98.9 510.9,100.5 511.2,103.3 511.6,99.6 511.9,103.8 512.3,99.0 512.6,101.1 513.0,101.0 513.3,97.5 513.7,96.5 514.0,97.9 514.4,95.9 514.7,94.9 515.1,95.3 515.4,98.0 515.8,98.9 516.1,98.1 516.5,99.5 516.8,96.7 517.2,98.9 517.5,97.4 517.9,99.8 518.2,99.7 518.6,101.2 518.9,99.1 519.3,98.2 519.6,97.7 520.0,100.6 520.3,100.9 520.7,97.5 521.0,96.3 521.4,99.0 521.7,100.0 522.1,101.8 522.4,101.4 522.8,99.3 523.1,98.7 523.5,99.6 523.8,97.0 524.2,96.7 524.5,94.7 524.9,94.9 525.2,97.2 525.6,101.8 525.9,99.8 526.3,96.8 526.6,102.1 527.0,98.6 527.3,97.7 527.7,100.8 528.0,98.6 528.4,98.3 528.7,96.5 529.1,101.6 529.4,101.2 529.8,100.6 530.1,98.0 530.5,100.7 530.8,97.8 531.2,97.5 531.5,100.1 531.9,98.6 532.2,95.2 532.6,99.2 532.9,95.9 533.3,96.5 533.6,99.3 534.0,100.2 534.3,102.1 534.7,98.6 535.0,99.2 535.4,97.9 535.7,101.0 536.1,100.6 536.4,101.4 536.8,100.0 537.1,98.4 537.5,97.6 537.8,102.3 538.2,96.6 538.5,96.1 538.9,98.3 539.2,100.2 539.6,95.7 539.9,99.9 540.3,98.3 540.6,99.4 541.0,95.3"/>
</g>
<path fill="#1a1a1a" fill-rule="evenodd" d="M48.1 9.5H541.5V274.2H48.1Z M50 10.9H539.6V272.95H50Z"/>
<g stroke="#1a1a1a" stroke-width="1.4" fill="none">
<path d="M49.5 32.2h5.4M540 32.2h-5.4"/>
<path d="M49.5 59h5.4M540 59h-5.4"/>
<path d="M49.5 85.8h5.4M540 85.8h-5.4"/>
<path d="M49.5 112.4h5.4M540 112.4h-5.4"/>
<path d="M49.5 139.2h5.4M540 139.2h-5.4"/>
<path d="M49.5 165.8h5.4M540 165.8h-5.4"/>
<path d="M49.5 192.6h5.4M540 192.6h-5.4"/>
<path d="M49.5 219.6h5.4M540 219.6h-5.4"/>
<path d="M49.5 246.6h5.4M540 246.6h-5.4"/>
<path d="M209.6 10.5v3.4M209.6 273v-3.4"/>
<path d="M370.4 10.5v3.4M370.4 273v-3.4"/>
<path d="M530.6 10.5v3.4M530.6 273v-3.4"/>
</g>
<path d="M67.5 139 C 85 138, 100 140, 115 144.6 S 146 158, 159.5 171.5" fill="none" stroke="#000" stroke-width="1.8" stroke-linecap="round"/>
<path d="M165.3 181.8 L152.9 171.7 L159.2 170.9 L164.9 168.8 Z" fill="#000"/>
<g font-family="'Liberation Serif', 'Times New Roman', serif" font-size="14.8" fill="#111" stroke="#111" stroke-width="0.2">
<text x="42.7" y="17.9" text-anchor="end">26</text>
<text x="42.7" y="64" text-anchor="end">22</text>
<text x="42.7" y="117.4" text-anchor="end">18</text>
<text x="42.7" y="171" text-anchor="end">14</text>
<text x="42.7" y="224.8" text-anchor="end">10</text>
<text x="43.3" y="276.4" text-anchor="end">6</text>
<text x="47.8" y="288">0</text>
<text x="192.2" y="288">0.05</text>
<text x="361.8" y="288">0.1</text>
<text x="512.3" y="288">0.15</text>
<text x="300.7" y="303.1">t/s</text>
<text transform="translate(18.7 194.2) rotate(-90) scale(0.965 1.03)">P/kW</text>
<text x="103" y="216.3"><tspan font-style="italic">Z</tspan><tspan font-size="9.8" dy="2.2" dx="0.2">g</tspan><tspan dy="-2.2" dx="8.2">increase</tspan></text>
</g>
</svg>
</body></html>
